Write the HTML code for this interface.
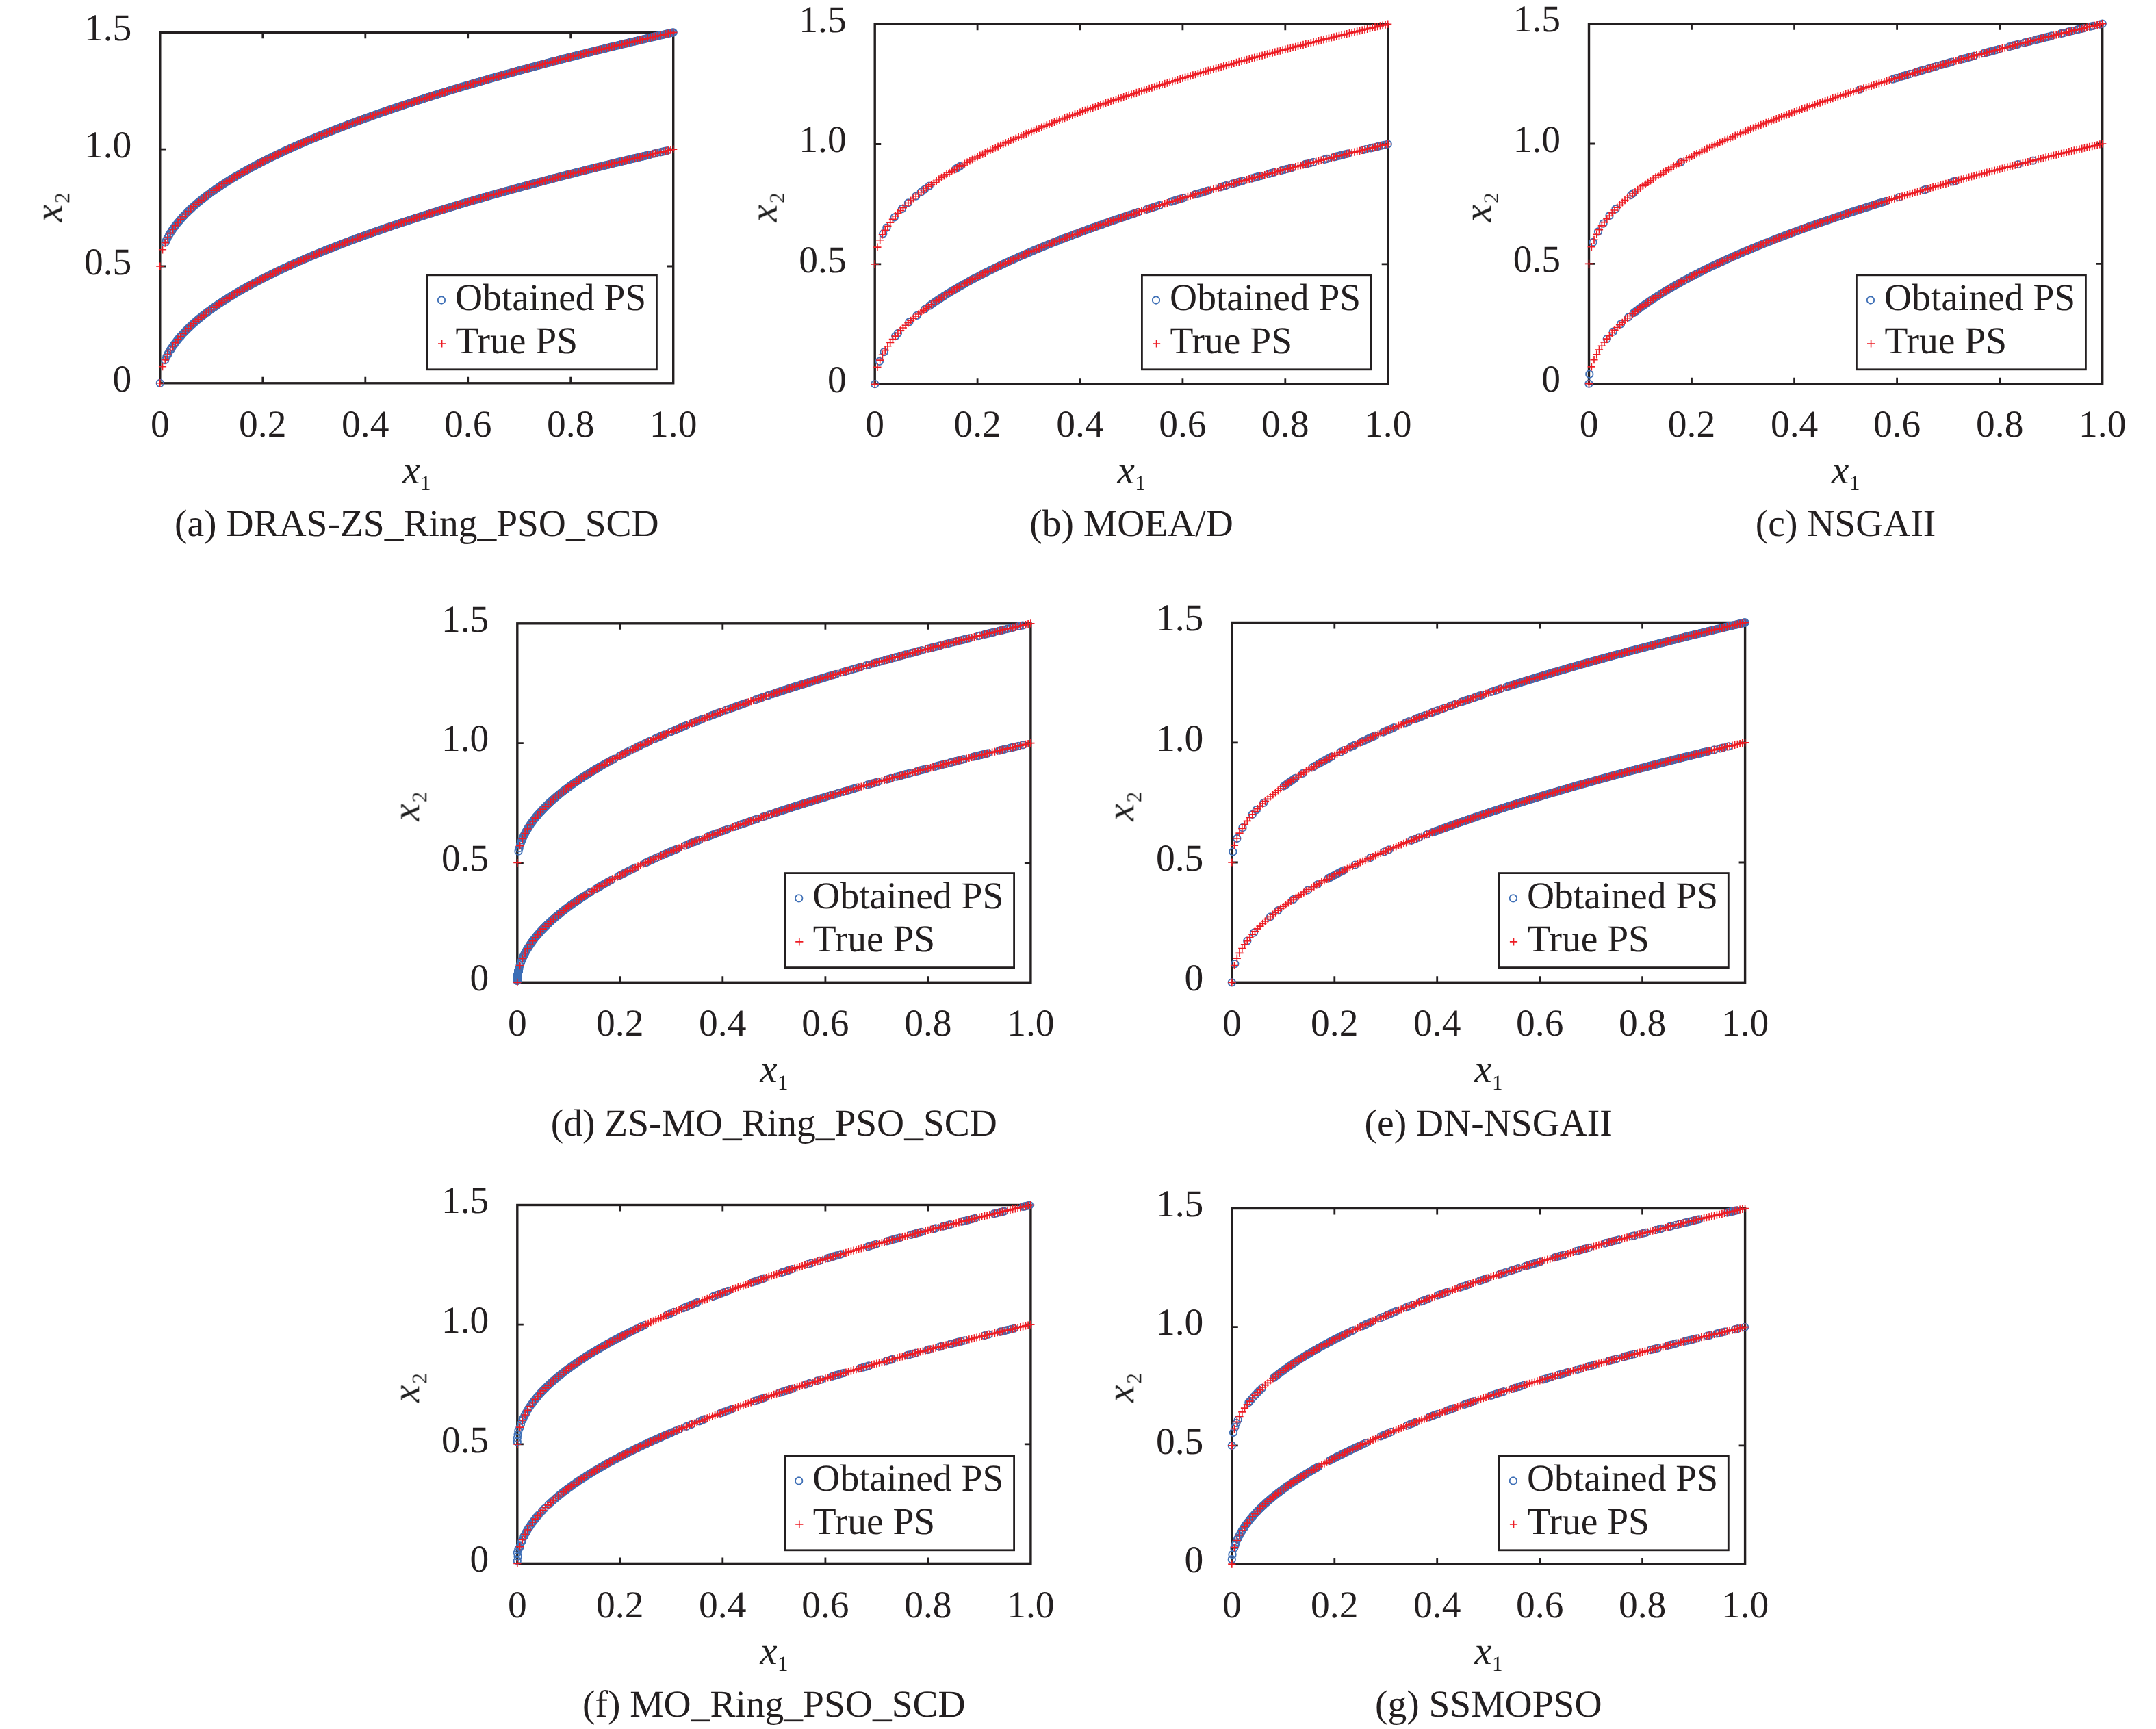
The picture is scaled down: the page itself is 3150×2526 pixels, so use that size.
<!DOCTYPE html>
<html><head><meta charset="utf-8"><title>Obtained PS vs True PS</title>
<style>
html,body{margin:0;padding:0;background:#fff}
svg{display:block}
text{text-rendering:geometricPrecision;font-family:"Liberation Serif","Times New Roman",serif;font-size:55.5px;fill:#231f20}
.i{font-style:italic;font-size:57px}
.s{font-size:31px}
.ax{fill:none;stroke:#231f20;stroke-width:3.4}
.tk{fill:none;stroke:#231f20;stroke-width:2.8}
.lg{fill:#fff;stroke:#231f20;stroke-width:2.8}
.b{fill:none;stroke:none;marker-start:url(#mc);marker-mid:url(#mc);marker-end:url(#mc)}
.r{fill:none;stroke:none;marker-start:url(#mp);marker-mid:url(#mp);marker-end:url(#mp)}
</style></head><body>
<svg width="3150" height="2526" viewBox="0 0 3150 2526">
<defs>
<marker id="mc" markerWidth="16" markerHeight="16" refX="8" refY="8" markerUnits="userSpaceOnUse" overflow="visible"><circle cx="8" cy="8" r="5.25" fill="none" stroke="#3e6fb6" stroke-width="1.8"/></marker>
<marker id="mp" markerWidth="16" markerHeight="16" refX="8" refY="8" markerUnits="userSpaceOnUse" overflow="visible"><path d="M2.4 8H13.6M8 2.4V13.6" fill="none" stroke="#ed1c24" stroke-width="1.65"/></marker>
<filter id="gs" x="-20%" y="-20%" width="140%" height="140%" color-interpolation-filters="sRGB"><feColorMatrix type="saturate" values="0"/></filter>
</defs>
<rect width="3150" height="2526" fill="#fff"/>

<g id="plot-a">
<rect class="ax" x="233.8" y="47.3" width="749.9" height="512.5"/>
<path class="tk" d="M383.8 559.8v-9M383.8 47.3v9M533.8 559.8v-9M533.8 47.3v9M683.7 559.8v-9M683.7 47.3v9M833.7 559.8v-9M833.7 47.3v9M233.8 389h9M983.7 389h-9M233.8 218.1h9M983.7 218.1h-9"/>
<polyline class="b" points="241.5,354.4 242.9,351.4 244.5,348.2 246.9,343.8 248.8,340.6 250.7,337.7 252,335.7 253.6,333.5 255.3,331.1 257.3,328.5 259.3,326 261.4,323.5 262.9,321.6 264.8,319.5 266.5,317.6 268.3,315.7 269.3,314.6 271.3,312.5 273.8,310.1 275.2,308.7 277.3,306.7 278.1,305.9 280.1,304.1 281.6,302.7 283.8,300.7 285.7,299.1 287.3,297.7 289.2,296.1 290.8,294.7 292.5,293.4 294.2,292 296.3,290.4 297.5,289.3 299.8,287.6 301.7,286.2 302.9,285.2 305.1,283.6 306.7,282.5 308.5,281.1 310.1,280 311.8,278.8 314,277.3 315.5,276.2 317.1,275.1 319.3,273.6 321.2,272.3 323.1,271 324.5,270.1 326,269.1 327.9,267.9 330.1,266.5 331.4,265.7 333.3,264.5 335.3,263.3 336.6,262.4 338.3,261.4 340.7,259.9 342.4,258.9 343.8,258.1 345.7,257 347.6,255.9 349.8,254.6 351.1,253.8 353.4,252.5 354.3,252 356.8,250.6 358.4,249.7 360.1,248.8 362.1,247.6 363.4,246.9 365.4,245.8 367.4,244.7 369.1,243.8 370.5,243.1 372.9,241.8 374,241.2 376,240.2 378.1,239.1 379.3,238.5 381.3,237.4 383,236.6 384.9,235.6 386.8,234.6 388.5,233.8 390.1,233 392.4,231.9 393.1,231.5 395,230.6 397.4,229.4 398.8,228.7 400.4,227.9 402.6,226.9 404.1,226.1 406.3,225.1 407.7,224.4 410,223.4 411.5,222.6 413.2,221.9 414.5,221.2 417.1,220.1 418.3,219.5 420.1,218.7 422,217.8 423.3,217.2 425.5,216.2 426.7,215.7 429,214.7 431.2,213.7 432.3,213.2 434.5,212.2 436.4,211.4 437.6,210.9 439.8,209.9 441.5,209.1 443.5,208.3 445.3,207.5 446.9,206.8 448.3,206.2 450.2,205.4 452.4,204.5 453.5,204 455.6,203.1 456.8,202.7 459.3,201.6 460.7,201 463.1,200.1 464.4,199.5 466.7,198.6 468.3,197.9 469.3,197.5 471.7,196.5 473.3,195.9 474.5,195.4 476.5,194.6 478.2,193.9 480.5,193 482.5,192.2 483.8,191.7 486,190.8 486.9,190.5 489.7,189.4 491.4,188.7 492.7,188.2 494.1,187.7 496,187 497.9,186.2 499.7,185.5 501.3,184.9 503.5,184.1 505.6,183.3 507.2,182.7 509.1,182 509.9,181.7 512.2,180.8 513.9,180.1 515.4,179.6 517.5,178.8 519.5,178.1 521.4,177.4 523,176.8 524.3,176.3 526.3,175.6 528.5,174.8 530.2,174.2 531.3,173.8 533.4,173 535.7,172.2 537.4,171.6 538.8,171.1 540.2,170.6 541.9,170 544.2,169.2 545.9,168.6 547.7,167.9 549.4,167.3 551.2,166.7 552.8,166.1 554.3,165.6 555.9,165 558.5,164.1 560.4,163.5 562.2,162.9 564,162.3 565.2,161.8 566.9,161.2 569,160.5 570.8,159.9 572.5,159.3 573.9,158.9 576,158.2 578,157.5 579.9,156.9 581,156.5 583.2,155.8 584.6,155.3 586,154.8 587.9,154.2 589.7,153.6 591.5,153 593.4,152.4 595.6,151.6 597.1,151.2 598.8,150.6 600.3,150.1 602.9,149.3 603.7,149 606.2,148.2 607.9,147.6 609.8,147 611.6,146.5 613.5,145.9 614.4,145.6 616.7,144.8 618.2,144.4 619.6,143.9 621.7,143.2 624.1,142.5 624.9,142.2 626.7,141.7 628.6,141.1 630.2,140.5 632.2,139.9 634.5,139.2 636.1,138.7 637.6,138.3 639.9,137.5 641.6,137 642.9,136.6 644.8,136 646.3,135.6 648.3,135 650.7,134.2 652.1,133.8 654,133.2 655.4,132.8 657.6,132.1 658.8,131.7 660.8,131.2 662.9,130.5 664.7,130 666,129.6 667.6,129.1 669.1,128.7 671.4,128 673.5,127.3 674.8,127 676.7,126.4 679,125.7 680,125.4 682.1,124.8 684.2,124.2 685.4,123.8 687.3,123.3 689.3,122.7 691.1,122.2 692.7,121.7 694.7,121.1 696.7,120.5 697.9,120.2 699.4,119.8 702,119 702.9,118.7 704.8,118.2 706.5,117.7 708.3,117.2 710.6,116.5 712.5,116 714.2,115.5 716,115 717.6,114.5 718.7,114.2 721.2,113.5 723.2,112.9 724.2,112.7 726.5,112 727.7,111.7 729.7,111.1 732,110.5 733.6,110 734.8,109.7 737,109.1 738.5,108.7 740.1,108.2 741.7,107.8 743.5,107.3 746.1,106.6 747.5,106.2 749.4,105.7 750.9,105.3 753.3,104.6 754.7,104.2 756.6,103.7 757.9,103.3 759.5,102.9 761.2,102.4 763.2,101.9 764.7,101.5 767.1,100.8 769.1,100.3 770.6,99.9 772.6,99.4 774.1,99 775.6,98.6 777.4,98.1 778.9,97.7 781.1,97.1 782.6,96.7 785.1,96 786.7,95.6 787.7,95.3 789.6,94.8 791.9,94.2 793.4,93.8 795.1,93.4 796.9,92.9 798.7,92.4 800.3,92 801.9,91.6 804.1,91 806,90.5 807.2,90.2 809,89.7 811.2,89.2 812.8,88.8 814.9,88.2 816.4,87.8 817.9,87.4 819.8,86.9 821.7,86.5 823.9,85.9 825.3,85.5 827.6,84.9 828.5,84.7 830.3,84.2 831.9,83.8 833.8,83.4 835.5,82.9 837.8,82.3 839.2,82 841.8,81.3 843,81 844.3,80.7 846.1,80.2 848.7,79.6 849.7,79.3 851.7,78.8 853.8,78.3 855.5,77.9 857.3,77.4 858.6,77.1 861.1,76.5 862.6,76.1 864.3,75.7 865.5,75.4 867.7,74.8 869.7,74.3 871.2,74 873.4,73.4 874.8,73.1 876.6,72.6 877.9,72.3 879.7,71.9 882.4,71.2 884.2,70.8 885,70.6 887,70.1 888.6,69.7 891.3,69 892.7,68.7 894.2,68.3 896.3,67.8 897.5,67.5 899.5,67.1 901.4,66.6 903.6,66.1 904.5,65.8 907,65.2 908.1,65 910.6,64.4 912.1,64 914,63.6 915.3,63.3 917.1,62.8 918.8,62.4 920.5,62 923.2,61.4 924.2,61.1 926.4,60.6 927.8,60.3 929.5,59.9 931.9,59.3 933.3,59 934.9,58.6 936.3,58.3 939,57.6 940.4,57.3 941.9,57 944.4,56.4 945.3,56.2 947.6,55.6 949.1,55.3 951.5,54.7 952.9,54.4 954.7,54 956.6,53.5 957.8,53.3 959.4,52.9 961.2,52.5 963.4,52 965,51.6 967.2,51.1 968.4,50.8 970.5,50.3 972.7,49.8 973.7,49.6 976.1,49 977.4,48.7 978.8,48.4 980.6,48 982.4,47.6 241.1,526.2 243.4,521.1 244.9,518.2 246.2,515.8 249,511.2 250,509.6 251.6,507.2 253.7,504.2 255.4,501.8 257.2,499.5 259,497.2 261,494.7 262.9,492.4 264.4,490.8 265.9,489.1 268.3,486.5 270.1,484.7 271.7,483 273.6,481.1 275,479.7 276.7,478.1 278.2,476.6 280.6,474.5 281.7,473.4 284.3,471.1 285.5,470 288,467.9 289.2,467 290.7,465.7 292.3,464.3 294.3,462.8 296.3,461.2 297.7,460 300.4,457.9 302.2,456.6 303.7,455.5 304.9,454.6 307.4,452.8 309.3,451.4 310.5,450.5 312.7,449 314,448.1 315.9,446.7 317.7,445.5 319.9,444 321.1,443.2 323.1,441.9 324.5,441 326.6,439.6 327.9,438.8 329.9,437.5 332.1,436.1 333.3,435.4 335.6,433.9 336.7,433.2 339,431.8 340.8,430.7 342.1,430 344.2,428.7 346.2,427.5 347.5,426.7 349.6,425.5 351.3,424.6 353.3,423.4 354.5,422.7 356.8,421.4 358.5,420.5 359.9,419.7 362.5,418.2 364,417.5 365.5,416.6 366.9,415.9 369.2,414.6 370.7,413.8 372.6,412.8 374.8,411.7 376,411 378.3,409.8 379.3,409.3 381.4,408.2 383.4,407.2 385.3,406.3 387,405.4 388.2,404.8 390.6,403.6 392.4,402.7 393.5,402.1 396.1,400.8 397.6,400.1 399.2,399.4 400.9,398.5 403.2,397.4 404.9,396.6 406.3,395.9 408.1,395.1 409.6,394.4 412.1,393.2 413.2,392.7 414.9,391.9 417,390.9 419.2,389.9 421,389.1 422.9,388.2 424.5,387.5 425.6,387 427.6,386.1 429,385.5 431.3,384.5 433.2,383.6 434.6,383 436.8,382 438.8,381.2 439.8,380.7 441.7,379.9 443.9,379 445.3,378.4 447.2,377.6 449.3,376.7 450.6,376.1 452.1,375.4 453.8,374.7 455.8,373.9 457.9,373 459.4,372.4 461.3,371.6 463.1,370.8 465,370.1 466.6,369.4 467.9,368.9 470.6,367.8 472.5,367 474.3,366.3 475.8,365.7 476.8,365.3 479.5,364.2 481.1,363.6 482.3,363.1 484.9,362.1 485.7,361.8 487.6,361.1 489.8,360.2 492,359.3 493,358.9 494.8,358.2 496.4,357.6 498.1,357 500.2,356.2 502.5,355.3 504.1,354.7 505.6,354.1 508,353.2 508.8,352.9 511.2,352 513.3,351.2 514.5,350.8 516.3,350.1 518.3,349.4 519.7,348.8 521.9,348 523.8,347.3 525.6,346.7 527.3,346.1 528.5,345.6 530.3,345 531.9,344.4 534.5,343.4 536.1,342.9 537.8,342.3 539.5,341.7 541.6,340.9 543,340.4 544.9,339.7 546.7,339.1 548.6,338.4 549.6,338.1 551.8,337.3 553.9,336.6 555.5,336 556.8,335.6 559.3,334.7 560.4,334.3 562.2,333.7 564.1,333 565.8,332.5 567.4,331.9 569.4,331.2 571,330.7 572.6,330.1 575.3,329.2 576.7,328.8 578.1,328.3 580.6,327.4 581.8,327.1 583.4,326.5 585.1,325.9 587.6,325.1 588.8,324.7 590.5,324.2 593.1,323.3 593.9,323.1 596.1,322.3 598.3,321.6 599.7,321.1 601.9,320.4 603.7,319.9 605.5,319.2 607.3,318.7 608.3,318.3 610.7,317.6 612.3,317.1 614.4,316.4 616,315.9 617.4,315.4 619.2,314.9 620.5,314.4 623.1,313.6 624.7,313.1 626.5,312.6 628.5,311.9 630.2,311.4 631.3,311.1 633,310.5 635.3,309.8 636.7,309.4 639.2,308.6 641,308 642.6,307.5 644.3,307 645.3,306.7 647.3,306.1 649.2,305.5 651.3,304.9 652.4,304.5 654.7,303.8 656.2,303.4 658.1,302.8 659.9,302.2 661.6,301.7 663,301.3 665,300.7 667.5,300 669.1,299.5 670.3,299.1 672.5,298.5 674.7,297.8 675.7,297.5 678.2,296.8 679.9,296.3 681.3,295.9 683.4,295.2 685.3,294.7 686.3,294.4 688.4,293.8 690.5,293.2 691.5,292.9 693.3,292.3 695.9,291.6 696.8,291.3 699,290.7 701.2,290.1 702.2,289.8 704.8,289 706.5,288.5 708,288.1 709.7,287.6 711.5,287.1 713.6,286.5 714.9,286.1 716.6,285.7 718.4,285.1 719.9,284.7 722.1,284.1 724,283.6 725.6,283.1 727.6,282.5 729.1,282.1 730.9,281.6 732.7,281.1 734.3,280.7 736.7,280 738,279.6 739.7,279.2 741.2,278.8 742.8,278.3 744.7,277.8 746.5,277.3 748.2,276.8 751,276.1 752.1,275.7 754.5,275.1 756.2,274.6 757.1,274.4 759.2,273.8 760.6,273.4 762.7,272.9 765.1,272.2 766.6,271.8 767.9,271.5 769.8,270.9 772.2,270.3 773.2,270 775.3,269.5 777,269 779.2,268.4 781,267.9 782.7,267.5 783.7,267.2 785.4,266.8 787.7,266.2 789.1,265.8 790.7,265.4 793,264.8 795.2,264.2 796.3,263.9 798.2,263.4 800.2,262.9 802.3,262.3 803.4,262 805.2,261.6 807.7,260.9 808.9,260.6 810.2,260.2 812,259.8 814.2,259.2 816.3,258.7 817.6,258.3 820,257.7 821.5,257.3 823.4,256.8 825.1,256.4 827,255.9 828.5,255.5 829.7,255.2 831.9,254.7 833.5,254.3 835.7,253.7 837.4,253.3 839.5,252.7 841.2,252.3 842.5,252 844.6,251.4 845.8,251.1 847.6,250.7 850,250.1 851.8,249.6 853.3,249.2 854.7,248.9 856.7,248.4 858.4,248 860.2,247.5 862.5,247 863.4,246.7 865.8,246.1 867.4,245.7 868.9,245.4 870.6,245 872.6,244.5 875,243.9 876.2,243.6 878,243.1 879.9,242.7 881.9,242.2 883.7,241.7 885.3,241.3 887.3,240.9 888.5,240.6 890.3,240.1 892.8,239.5 893.7,239.3 896.4,238.6 897.2,238.4 899.6,237.9 901.4,237.4 903,237 905.1,236.5 906.1,236.3 908.1,235.8 910,235.4 912.3,234.8 913.4,234.6 915.6,234 917.2,233.6 919.2,233.2 921,232.7 922.4,232.4 924.3,231.9 926.2,231.5 928,231.1 929.3,230.8 930.8,230.4 933.4,229.8 934.9,229.4 936.2,229.1 938.7,228.6 940.4,228.2 941.8,227.8 943.7,227.4 946,226.8 947.3,226.5 949.2,226.1 955.2,224.7 958.2,224 965,222.4 968,221.7 971,221 974.7,220.2 233.8,559.8 983.7,47.3"/>
<polyline class="r" points="233.8,389 237.5,364.8 241.3,354.8 245,347.1 248.8,340.6 252.5,334.9 256.3,329.8 260,325 263.8,320.6 267.5,316.5 271.3,312.6 275,308.8 278.8,305.3 282.5,301.9 286.3,298.6 290,295.4 293.8,292.3 297.5,289.4 301.3,286.5 305,283.7 308.8,280.9 312.5,278.3 316.3,275.6 320,273.1 323.8,270.6 327.5,268.2 331.3,265.8 335,263.4 338.8,261.1 342.5,258.9 346.3,256.6 350,254.5 353.8,252.3 357.5,250.2 361.3,248.1 365,246 368.8,244 372.5,242 376.3,240 380,238.1 383.8,236.2 387.5,234.3 391.3,232.4 395,230.5 398.8,228.7 402.5,226.9 406.3,225.1 410,223.3 413.8,221.6 417.5,219.9 421.3,218.1 425,216.4 428.8,214.8 432.5,213.1 436.3,211.4 440,209.8 443.8,208.2 447.5,206.6 451.3,205 455,203.4 458.8,201.8 462.5,200.3 466.3,198.7 470,197.2 473.8,195.7 477.5,194.2 481.3,192.7 485,191.2 488.8,189.7 492.5,188.3 496.3,186.8 500,185.4 503.8,184 507.5,182.5 511.3,181.1 515,179.7 518.8,178.3 522.5,177 526.3,175.6 530,174.2 533.8,172.9 537.5,171.5 541.3,170.2 545,168.9 548.8,167.5 552.5,166.2 556.3,164.9 560,163.6 563.8,162.3 567.5,161 571.3,159.8 575,158.5 578.8,157.2 582.5,156 586.3,154.7 590,153.5 593.8,152.3 597.5,151 601.3,149.8 605,148.6 608.8,147.4 612.5,146.2 616.2,145 620,143.8 623.7,142.6 627.5,141.4 631.2,140.2 635,139.1 638.7,137.9 642.5,136.7 646.2,135.6 650,134.4 653.7,133.3 657.5,132.1 661.2,131 665,129.9 668.7,128.8 672.5,127.6 676.2,126.5 680,125.4 683.7,124.3 687.5,123.2 691.2,122.1 695,121 698.7,119.9 702.5,118.9 706.2,117.8 710,116.7 713.7,115.6 717.5,114.6 721.2,113.5 725,112.4 728.7,111.4 732.5,110.3 736.2,109.3 740,108.3 743.7,107.2 747.5,106.2 751.2,105.2 755,104.1 758.7,103.1 762.5,102.1 766.2,101.1 770,100.1 773.7,99.1 777.5,98 781.2,97 785,96 788.7,95.1 792.5,94.1 796.2,93.1 800,92.1 803.7,91.1 807.5,90.1 811.2,89.2 815,88.2 818.7,87.2 822.5,86.2 826.2,85.3 830,84.3 833.7,83.4 837.5,82.4 841.2,81.5 845,80.5 848.7,79.6 852.5,78.6 856.2,77.7 860,76.8 863.7,75.8 867.5,74.9 871.2,74 875,73 878.7,72.1 882.5,71.2 886.2,70.3 890,69.4 893.7,68.5 897.5,67.5 901.2,66.6 905,65.7 908.7,64.8 912.5,63.9 916.2,63 920,62.1 923.7,61.3 927.5,60.4 931.2,59.5 935,58.6 938.7,57.7 942.5,56.8 946.2,56 950,55.1 953.7,54.2 957.5,53.3 961.2,52.5 965,51.6 968.7,50.7 972.5,49.9 976.2,49 980,48.2 983.7,47.3 233.8,559.8 237.5,535.6 241.3,525.6 245,518 248.8,511.5 252.5,505.8 256.3,500.6 260,495.9 263.8,491.5 267.5,487.3 271.3,483.4 275,479.7 278.8,476.1 282.5,472.7 286.3,469.4 290,466.2 293.8,463.2 297.5,460.2 301.3,457.3 305,454.5 308.8,451.8 312.5,449.1 316.3,446.5 320,443.9 323.8,441.4 327.5,439 331.3,436.6 335,434.3 338.8,432 342.5,429.7 346.3,427.5 350,425.3 353.8,423.1 357.5,421 361.3,418.9 365,416.9 368.8,414.8 372.5,412.8 376.3,410.9 380,408.9 383.8,407 387.5,405.1 391.3,403.2 395,401.4 398.8,399.5 402.5,397.7 406.3,395.9 410,394.2 413.8,392.4 417.5,390.7 421.3,389 425,387.3 428.8,385.6 432.5,383.9 436.3,382.3 440,380.6 443.8,379 447.5,377.4 451.3,375.8 455,374.2 458.8,372.7 462.5,371.1 466.3,369.6 470,368 473.8,366.5 477.5,365 481.3,363.5 485,362 488.8,360.6 492.5,359.1 496.3,357.7 500,356.2 503.8,354.8 507.5,353.4 511.3,352 515,350.6 518.8,349.2 522.5,347.8 526.3,346.4 530,345.1 533.8,343.7 537.5,342.4 541.3,341 545,339.7 548.8,338.4 552.5,337.1 556.3,335.8 560,334.5 563.8,333.2 567.5,331.9 571.3,330.6 575,329.3 578.8,328.1 582.5,326.8 586.3,325.6 590,324.3 593.8,323.1 597.5,321.9 601.3,320.6 605,319.4 608.8,318.2 612.5,317 616.2,315.8 620,314.6 623.7,313.4 627.5,312.2 631.2,311.1 635,309.9 638.7,308.7 642.5,307.6 646.2,306.4 650,305.3 653.7,304.1 657.5,303 661.2,301.8 665,300.7 668.7,299.6 672.5,298.5 676.2,297.4 680,296.3 683.7,295.1 687.5,294 691.2,292.9 695,291.9 698.7,290.8 702.5,289.7 706.2,288.6 710,287.5 713.7,286.5 717.5,285.4 721.2,284.3 725,283.3 728.7,282.2 732.5,281.2 736.2,280.1 740,279.1 743.7,278.1 747.5,277 751.2,276 755,275 758.7,273.9 762.5,272.9 766.2,271.9 770,270.9 773.7,269.9 777.5,268.9 781.2,267.9 785,266.9 788.7,265.9 792.5,264.9 796.2,263.9 800,262.9 803.7,261.9 807.5,261 811.2,260 815,259 818.7,258 822.5,257.1 826.2,256.1 830,255.2 833.7,254.2 837.5,253.3 841.2,252.3 845,251.4 848.7,250.4 852.5,249.5 856.2,248.5 860,247.6 863.7,246.7 867.5,245.7 871.2,244.8 875,243.9 878.7,243 882.5,242 886.2,241.1 890,240.2 893.7,239.3 897.5,238.4 901.2,237.5 905,236.6 908.7,235.7 912.5,234.8 916.2,233.9 920,233 923.7,232.1 927.5,231.2 931.2,230.3 935,229.4 938.7,228.5 942.5,227.7 946.2,226.8 950,225.9 953.7,225 957.5,224.2 961.2,223.3 965,222.4 968.7,221.6 972.5,220.7 976.2,219.8 980,219 983.7,218.1"/>
<rect class="lg" x="624.4" y="401.8" width="335" height="138"/>
<polyline class="b" points="645,438.5"/>
<polyline class="r" points="645.6,502"/>
<text x="665.1" y="453.1">Obtained PS</text>
<text x="665.6" y="516.2">True PS</text>
<text text-anchor="middle" x="233.8" y="637.8">0</text>
<text text-anchor="middle" x="383.8" y="637.8">0.2</text>
<text text-anchor="middle" x="533.8" y="637.8">0.4</text>
<text text-anchor="middle" x="683.7" y="637.8">0.6</text>
<text text-anchor="middle" x="833.7" y="637.8">0.8</text>
<text text-anchor="middle" x="983.7" y="637.8">1.0</text>
<text text-anchor="end" x="192.3" y="571.5">0</text>
<text text-anchor="end" x="192.3" y="400.7">0.5</text>
<text text-anchor="end" x="192.3" y="229.8">1.0</text>
<text text-anchor="end" x="192.3" y="59">1.5</text>
<text filter="url(#gs)" x="588.2" y="706"><tspan class="i">x</tspan><tspan class="s" dx="0.5" dy="10.4">1</tspan></text>
<text filter="url(#gs)" transform="translate(90.3 324.2) rotate(-90)"><tspan class="i">x</tspan><tspan class="s" dx="2" dy="11">2</tspan></text>
<text text-anchor="middle" x="608.8" y="783.4">(a) DRAS-ZS_Ring_PSO_SCD</text>
</g>
<g id="plot-b">
<rect class="ax" x="1278.2" y="35.2" width="749.5" height="526"/>
<path class="tk" d="M1428.1 561.2v-9M1428.1 35.2v9M1578 561.2v-9M1578 35.2v9M1727.9 561.2v-9M1727.9 35.2v9M1877.8 561.2v-9M1877.8 35.2v9M1278.2 385.9h9M2027.7 385.9h-9M1278.2 210.5h9M2027.7 210.5h-9"/>
<polyline class="b" points="1290.2,341.5 1295.4,332.7 1306.7,317.5 1317.9,305.1 1326.9,296.5 1338.2,286.7 1345.7,280.7 1350.9,276.7 1357.6,271.7 1396.6,246.5 1399.6,244.7 1402.6,243 1278.2,561.2 1284.9,527.9 1291.7,514.2 1308.2,491.1 1311.9,486.8 1328.4,470.4 1339.7,460.8 1350.9,452 1358.3,446.6 1361.1,444.6 1362.3,443.7 1365.5,441.5 1368.6,439.4 1371.2,437.7 1373.1,436.4 1375.2,435.1 1378.4,433 1379.7,432.1 1382.3,430.5 1385.2,428.7 1387.2,427.5 1390.1,425.7 1393.1,423.9 1395.8,422.3 1398.1,420.9 1399.9,419.9 1403.3,417.9 1405.5,416.7 1407.9,415.3 1409.3,414.6 1412.1,413 1415.1,411.3 1417.2,410.2 1419.9,408.7 1422.2,407.5 1424.3,406.4 1426.6,405.2 1430.2,403.3 1432.1,402.3 1435.2,400.7 1437.5,399.5 1440.2,398.2 1441.8,397.4 1444.3,396.1 1447.1,394.7 1449.1,393.8 1451.6,392.5 1454.5,391.1 1457.1,389.9 1459.5,388.8 1461.2,387.9 1464.6,386.3 1466.4,385.5 1469.3,384.1 1471.5,383.1 1474.1,381.9 1477.2,380.5 1478.6,379.9 1480.9,378.9 1483.5,377.7 1487,376.1 1488.5,375.4 1491.3,374.2 1494.5,372.8 1496.9,371.8 1499,370.9 1501.4,369.8 1503.7,368.8 1506.4,367.7 1509.3,366.5 1510.5,366 1514.2,364.4 1516,363.7 1518.9,362.5 1521.6,361.4 1523.8,360.5 1525.6,359.7 1528.1,358.7 1531,357.5 1533.7,356.5 1535,355.9 1538.5,354.5 1540.8,353.6 1543.5,352.6 1545,352 1547.4,351 1550.2,349.9 1553.6,348.6 1555.2,348 1558,346.9 1561.1,345.8 1562.2,345.4 1565.6,344.1 1568.4,343 1569.9,342.4 1572.2,341.6 1575.7,340.3 1577.5,339.6 1579.8,338.7 1583.4,337.4 1584.8,336.9 1587.7,335.8 1589.5,335.2 1591.8,334.4 1595.7,333 1597,332.5 1599.4,331.7 1601.8,330.8 1604.8,329.7 1607,328.9 1610.3,327.8 1611.7,327.3 1614.9,326.2 1617.3,325.3 1619.8,324.4 1622.7,323.5 1624.8,322.7 1627.2,321.9 1629.4,321.1 1631.3,320.5 1634.7,319.4 1637.5,318.4 1639.7,317.7 1642.3,316.8 1644.3,316.1 1646.5,315.4 1648.5,314.7 1651.7,313.7 1655.9,312.3 1658.2,311.5 1662.8,310 1675.6,305.9 1679.5,304.6 1682.7,303.6 1685.6,302.7 1689.4,301.5 1694.1,300 1711.4,294.6 1714,293.8 1716.8,292.9 1721.4,291.5 1725,290.5 1728.7,289.3 1745.8,284.2 1748.3,283.5 1752.2,282.3 1755.8,281.3 1759.4,280.2 1763.4,279 1765.7,278.4 1783.5,273.3 1787.4,272.2 1791.4,271 1800.5,268.5 1804.5,267.3 1808.8,266.2 1812.2,265.2 1815.4,264.3 1828.7,260.7 1833.2,259.4 1835.8,258.7 1838.4,258 1842.3,257 1854.2,253.8 1857.6,252.9 1861.2,251.9 1872.7,248.9 1876.4,247.9 1880.2,246.9 1885.1,245.6 1887.8,244.9 1906.8,240 1909.8,239.3 1914.1,238.2 1918.7,237 1935.4,232.8 1938.9,232 1949.5,229.3 1952.9,228.5 1956.6,227.6 1958.9,227 1963.1,226 1966.4,225.2 1969.6,224.4 1991.6,219.1 1995.3,218.2 2002.9,216.4 2006.2,215.6 2011.9,214.3 2014.1,213.7 2018.6,212.7 2022.3,211.8 2027.7,210.5"/>
<polyline class="r" points="1278.2,385.9 1281.9,361.1 1285.7,350.8 1289.4,342.9 1293.2,336.3 1296.9,330.4 1300.7,325.1 1304.4,320.3 1308.2,315.7 1311.9,311.5 1315.7,307.5 1319.4,303.6 1323.2,300 1326.9,296.5 1330.7,293.1 1334.4,289.8 1338.2,286.7 1341.9,283.6 1345.7,280.7 1349.4,277.8 1353.2,275 1356.9,272.2 1360.6,269.6 1364.4,266.9 1368.1,264.4 1371.9,261.9 1375.6,259.4 1379.4,257 1383.1,254.7 1386.9,252.3 1390.6,250.1 1394.4,247.8 1398.1,245.6 1401.9,243.4 1405.6,241.3 1409.4,239.2 1413.1,237.1 1416.9,235 1420.6,233 1424.4,231 1428.1,229 1431.8,227.1 1435.6,225.2 1439.3,223.3 1443.1,221.4 1446.8,219.5 1450.6,217.7 1454.3,215.9 1458.1,214.1 1461.8,212.3 1465.6,210.5 1469.3,208.8 1473.1,207.1 1476.8,205.3 1480.6,203.7 1484.3,202 1488.1,200.3 1491.8,198.7 1495.6,197 1499.3,195.4 1503,193.8 1506.8,192.2 1510.5,190.6 1514.3,189.1 1518,187.5 1521.8,186 1525.5,184.4 1529.3,182.9 1533,181.4 1536.8,179.9 1540.5,178.4 1544.3,176.9 1548,175.5 1551.8,174 1555.5,172.6 1559.3,171.1 1563,169.7 1566.8,168.3 1570.5,166.9 1574.3,165.5 1578,164.1 1581.7,162.7 1585.5,161.3 1589.2,160 1593,158.6 1596.7,157.3 1600.5,155.9 1604.2,154.6 1608,153.3 1611.7,151.9 1615.5,150.6 1619.2,149.3 1623,148 1626.7,146.7 1630.5,145.5 1634.2,144.2 1638,142.9 1641.7,141.7 1645.5,140.4 1649.2,139.2 1653,137.9 1656.7,136.7 1660.4,135.4 1664.2,134.2 1667.9,133 1671.7,131.8 1675.4,130.6 1679.2,129.4 1682.9,128.2 1686.7,127 1690.4,125.8 1694.2,124.6 1697.9,123.5 1701.7,122.3 1705.4,121.1 1709.2,120 1712.9,118.8 1716.7,117.7 1720.4,116.5 1724.2,115.4 1727.9,114.2 1731.6,113.1 1735.4,112 1739.1,110.9 1742.9,109.8 1746.6,108.6 1750.4,107.5 1754.1,106.4 1757.9,105.3 1761.6,104.2 1765.4,103.2 1769.1,102.1 1772.9,101 1776.6,99.9 1780.4,98.8 1784.1,97.8 1787.9,96.7 1791.6,95.6 1795.4,94.6 1799.1,93.5 1802.8,92.5 1806.6,91.4 1810.3,90.4 1814.1,89.4 1817.8,88.3 1821.6,87.3 1825.3,86.3 1829.1,85.2 1832.8,84.2 1836.6,83.2 1840.3,82.2 1844.1,81.2 1847.8,80.2 1851.6,79.2 1855.3,78.2 1859.1,77.2 1862.8,76.2 1866.6,75.2 1870.3,74.2 1874.1,73.2 1877.8,72.2 1881.5,71.2 1885.3,70.3 1889,69.3 1892.8,68.3 1896.5,67.4 1900.3,66.4 1904,65.4 1907.8,64.5 1911.5,63.5 1915.3,62.6 1919,61.6 1922.8,60.7 1926.5,59.7 1930.3,58.8 1934,57.8 1937.8,56.9 1941.5,56 1945.3,55 1949,54.1 1952.8,53.2 1956.5,52.3 1960.2,51.4 1964,50.4 1967.7,49.5 1971.5,48.6 1975.2,47.7 1979,46.8 1982.7,45.9 1986.5,45 1990.2,44.1 1994,43.2 1997.7,42.3 2001.5,41.4 2005.2,40.5 2009,39.6 2012.7,38.7 2016.5,37.8 2020.2,37 2024,36.1 2027.7,35.2 1278.2,561.2 1281.9,536.4 1285.7,526.1 1289.4,518.3 1293.2,511.6 1296.9,505.8 1300.7,500.5 1304.4,495.6 1308.2,491.1 1311.9,486.8 1315.7,482.8 1319.4,479 1323.2,475.3 1326.9,471.8 1330.7,468.4 1334.4,465.2 1338.2,462 1341.9,459 1345.7,456 1349.4,453.1 1353.2,450.3 1356.9,447.6 1360.6,444.9 1364.4,442.3 1368.1,439.7 1371.9,437.2 1375.6,434.8 1379.4,432.4 1383.1,430 1386.9,427.7 1390.6,425.4 1394.4,423.1 1398.1,420.9 1401.9,418.8 1405.6,416.6 1409.4,414.5 1413.1,412.4 1416.9,410.4 1420.6,408.3 1424.4,406.3 1428.1,404.4 1431.8,402.4 1435.6,400.5 1439.3,398.6 1443.1,396.7 1446.8,394.9 1450.6,393 1454.3,391.2 1458.1,389.4 1461.8,387.6 1465.6,385.9 1469.3,384.1 1473.1,382.4 1476.8,380.7 1480.6,379 1484.3,377.3 1488.1,375.6 1491.8,374 1495.6,372.4 1499.3,370.7 1503,369.1 1506.8,367.5 1510.5,366 1514.3,364.4 1518,362.8 1521.8,361.3 1525.5,359.8 1529.3,358.2 1533,356.7 1536.8,355.2 1540.5,353.7 1544.3,352.3 1548,350.8 1551.8,349.3 1555.5,347.9 1559.3,346.5 1563,345 1566.8,343.6 1570.5,342.2 1574.3,340.8 1578,339.4 1581.7,338 1585.5,336.7 1589.2,335.3 1593,333.9 1596.7,332.6 1600.5,331.3 1604.2,329.9 1608,328.6 1611.7,327.3 1615.5,326 1619.2,324.7 1623,323.4 1626.7,322.1 1630.5,320.8 1634.2,319.5 1638,318.3 1641.7,317 1645.5,315.7 1649.2,314.5 1653,313.2 1656.7,312 1660.4,310.8 1664.2,309.5 1667.9,308.3 1671.7,307.1 1675.4,305.9 1679.2,304.7 1682.9,303.5 1686.7,302.3 1690.4,301.1 1694.2,300 1697.9,298.8 1701.7,297.6 1705.4,296.5 1709.2,295.3 1712.9,294.1 1716.7,293 1720.4,291.8 1724.2,290.7 1727.9,289.6 1731.6,288.4 1735.4,287.3 1739.1,286.2 1742.9,285.1 1746.6,284 1750.4,282.9 1754.1,281.8 1757.9,280.7 1761.6,279.6 1765.4,278.5 1769.1,277.4 1772.9,276.3 1776.6,275.2 1780.4,274.2 1784.1,273.1 1787.9,272 1791.6,271 1795.4,269.9 1799.1,268.9 1802.8,267.8 1806.6,266.8 1810.3,265.7 1814.1,264.7 1817.8,263.6 1821.6,262.6 1825.3,261.6 1829.1,260.6 1832.8,259.5 1836.6,258.5 1840.3,257.5 1844.1,256.5 1847.8,255.5 1851.6,254.5 1855.3,253.5 1859.1,252.5 1862.8,251.5 1866.6,250.5 1870.3,249.5 1874.1,248.5 1877.8,247.6 1881.5,246.6 1885.3,245.6 1889,244.6 1892.8,243.7 1896.5,242.7 1900.3,241.7 1904,240.8 1907.8,239.8 1911.5,238.9 1915.3,237.9 1919,237 1922.8,236 1926.5,235.1 1930.3,234.1 1934,233.2 1937.8,232.2 1941.5,231.3 1945.3,230.4 1949,229.5 1952.8,228.5 1956.5,227.6 1960.2,226.7 1964,225.8 1967.7,224.9 1971.5,223.9 1975.2,223 1979,222.1 1982.7,221.2 1986.5,220.3 1990.2,219.4 1994,218.5 1997.7,217.6 2001.5,216.7 2005.2,215.8 2009,214.9 2012.7,214.1 2016.5,213.2 2020.2,212.3 2024,211.4 2027.7,210.5"/>
<rect class="lg" x="1668.4" y="401.8" width="335" height="138"/>
<polyline class="b" points="1689,438.5"/>
<polyline class="r" points="1689.6,502"/>
<text x="1709.1" y="453.1">Obtained PS</text>
<text x="1709.6" y="516.2">True PS</text>
<text text-anchor="middle" x="1278.2" y="637.8">0</text>
<text text-anchor="middle" x="1428.1" y="637.8">0.2</text>
<text text-anchor="middle" x="1578" y="637.8">0.4</text>
<text text-anchor="middle" x="1727.9" y="637.8">0.6</text>
<text text-anchor="middle" x="1877.8" y="637.8">0.8</text>
<text text-anchor="middle" x="2027.7" y="637.8">1.0</text>
<text text-anchor="end" x="1236.7" y="572.9">0</text>
<text text-anchor="end" x="1236.7" y="397.6">0.5</text>
<text text-anchor="end" x="1236.7" y="222.2">1.0</text>
<text text-anchor="end" x="1236.7" y="46.9">1.5</text>
<text filter="url(#gs)" x="1632.5" y="706"><tspan class="i">x</tspan><tspan class="s" dx="0.5" dy="10.4">1</tspan></text>
<text filter="url(#gs)" transform="translate(1134.7 324.2) rotate(-90)"><tspan class="i">x</tspan><tspan class="s" dx="2" dy="11">2</tspan></text>
<text text-anchor="middle" x="1653" y="783.4">(b) MOEA/D</text>
</g>
<g id="plot-c">
<rect class="ax" x="2321.5" y="34.7" width="750.2" height="526"/>
<path class="tk" d="M2471.5 560.7v-9M2471.5 34.7v9M2621.6 560.7v-9M2621.6 34.7v9M2771.6 560.7v-9M2771.6 34.7v9M2921.7 560.7v-9M2921.7 34.7v9M2321.5 385.4h9M3071.7 385.4h-9M2321.5 210h9M3071.7 210h-9"/>
<polyline class="b" points="2327.5,354 2335,338.3 2342.5,326.7 2351.5,315.2 2360.5,305.4 2383,285 2386,282.5 2455.8,237 2717.6,130.6 2765.6,115.6 2769,114.5 2771.5,113.8 2777.6,111.9 2780.6,111 2783,110.3 2786.2,109.4 2790.7,108 2799.4,105.5 2801.6,104.8 2805,103.9 2807.2,103.2 2810,102.4 2817.1,100.4 2820.5,99.4 2824.5,98.2 2829,96.9 2836.5,94.8 2839.5,94 2842.3,93.2 2845.4,92.3 2848.4,91.5 2851.5,90.6 2864.6,87 2868,86.1 2870.5,85.4 2874.6,84.3 2877.6,83.4 2879.9,82.8 2884.4,81.6 2898.3,77.9 2902.5,76.8 2905.6,75.9 2907.6,75.4 2910,74.8 2913.2,73.9 2916.3,73.1 2920.6,72 2935.8,68.1 2940.1,66.9 2941.6,66.5 2945.2,65.6 2948,64.9 2957.5,62.5 2960.6,61.7 2964.3,60.8 2966.6,60.2 2974.4,58.2 2977,57.6 2980.1,56.8 2984.4,55.7 2987.2,55 2991,54.1 2993.2,53.6 2997.3,52.5 3011.7,49 3014.6,48.3 3021.2,46.7 3023.6,46.1 3027.7,45.1 3034.3,43.6 3036.9,42.9 3040.2,42.1 3043.8,41.3 3054.7,38.7 3058.2,37.9 3067.9,35.6 3071.7,34.7 2347.8,495.1 2356.8,484.7 2368,473.4 2379.3,463.4 2386.9,457.2 2389.2,455.4 2391.2,453.8 2394.2,451.5 2396.3,449.9 2399.4,447.7 2401.1,446.5 2403.4,444.9 2406.5,442.7 2409.1,440.8 2410.9,439.6 2413.1,438.1 2416.5,435.9 2418.9,434.3 2421.6,432.6 2423.1,431.7 2426.2,429.7 2428.9,428 2431.4,426.5 2434.2,424.8 2435.7,423.9 2439.1,421.9 2440.6,421 2443.2,419.5 2445.8,418 2449.1,416.1 2451,415 2452.7,414.1 2455.9,412.3 2458.8,410.7 2460.5,409.7 2463.1,408.4 2466,406.8 2468.2,405.6 2471.2,404 2473.1,403.1 2475.3,401.9 2478.4,400.3 2479.9,399.6 2483.5,397.7 2485.8,396.6 2488.2,395.4 2490.8,394.1 2492.6,393.2 2496.2,391.5 2498.1,390.5 2501,389.2 2502.9,388.3 2505.2,387.2 2507.8,386 2509.7,385.1 2513,383.5 2515.8,382.3 2517.9,381.3 2519.8,380.4 2522.8,379 2524.9,378.1 2527.7,376.9 2530.3,375.7 2533.2,374.4 2534.6,373.8 2537.4,372.6 2540,371.5 2541.9,370.6 2544.8,369.4 2546.9,368.5 2550.2,367.1 2552.2,366.3 2554.4,365.3 2557.6,364 2560,363 2562.9,361.8 2565,360.9 2567.9,359.7 2569.8,359 2572,358.1 2574.3,357.2 2576.6,356.2 2579.1,355.2 2581.4,354.3 2585.1,352.8 2586.5,352.3 2590,350.9 2591.3,350.4 2595.1,348.9 2596.6,348.4 2598.9,347.5 2602.2,346.2 2603.6,345.7 2607.4,344.2 2609.3,343.5 2611.3,342.8 2614,341.7 2616.1,341 2619.7,339.6 2621.3,339 2624.4,337.9 2626.9,337 2629.4,336.1 2632,335.1 2634,334.4 2637.2,333.2 2638.3,332.8 2641.6,331.6 2643.3,331 2646.9,329.7 2648.8,329.1 2652,328 2654.3,327.1 2656,326.5 2659.5,325.3 2661.3,324.7 2663.9,323.8 2666.7,322.8 2669.3,321.9 2670.8,321.4 2673.3,320.6 2675.4,319.8 2678,319 2680.9,318 2684.1,316.9 2685.7,316.4 2688.1,315.6 2691.4,314.5 2693.1,313.9 2695.7,313.1 2698,312.3 2700.4,311.5 2704,310.3 2705.7,309.7 2707.8,309.1 2711,308 2713,307.4 2715.9,306.4 2717.7,305.9 2720.2,305.1 2723.3,304.1 2726.4,303.1 2728.3,302.5 2731.1,301.6 2732.4,301.2 2735.9,300.1 2738.7,299.2 2741.2,298.4 2743.7,297.6 2745.6,297 2747.4,296.5 2750.3,295.6 2752.7,294.8 2755.8,293.9 2774.6,288.2 2811.4,277.3 2814.4,276.5 2853.4,265.4 2856.4,264.6 2948.7,240.1 2970.4,234.6 2321.5,560.7 2322.3,546.7"/>
<polyline class="r" points="2321.5,385.4 2325.3,360.6 2329,350.3 2332.8,342.4 2336.5,335.8 2340.3,329.9 2344,324.6 2347.8,319.8 2351.5,315.2 2355.3,311 2359,307 2362.8,303.1 2366.5,299.5 2370.3,296 2374,292.6 2377.8,289.3 2381.5,286.2 2385.3,283.1 2389,280.2 2392.8,277.3 2396.5,274.5 2400.3,271.7 2404,269.1 2407.8,266.4 2411.5,263.9 2415.3,261.4 2419,258.9 2422.8,256.5 2426.5,254.2 2430.3,251.8 2434,249.6 2437.8,247.3 2441.5,245.1 2445.3,242.9 2449,240.8 2452.8,238.7 2456.5,236.6 2460.3,234.5 2464,232.5 2467.8,230.5 2471.5,228.5 2475.3,226.6 2479,224.7 2482.8,222.8 2486.5,220.9 2490.3,219 2494,217.2 2497.8,215.4 2501.5,213.6 2505.3,211.8 2509.1,210 2512.8,208.3 2516.6,206.6 2520.3,204.8 2524.1,203.2 2527.8,201.5 2531.6,199.8 2535.3,198.2 2539.1,196.5 2542.8,194.9 2546.6,193.3 2550.3,191.7 2554.1,190.1 2557.8,188.6 2561.6,187 2565.3,185.5 2569.1,183.9 2572.8,182.4 2576.6,180.9 2580.3,179.4 2584.1,177.9 2587.8,176.4 2591.6,175 2595.3,173.5 2599.1,172.1 2602.8,170.6 2606.6,169.2 2610.3,167.8 2614.1,166.4 2617.8,165 2621.6,163.6 2625.3,162.2 2629.1,160.8 2632.8,159.5 2636.6,158.1 2640.3,156.8 2644.1,155.4 2647.8,154.1 2651.6,152.8 2655.3,151.4 2659.1,150.1 2662.8,148.8 2666.6,147.5 2670.3,146.2 2674.1,145 2677.8,143.7 2681.6,142.4 2685.3,141.2 2689.1,139.9 2692.8,138.7 2696.6,137.4 2700.4,136.2 2704.1,134.9 2707.9,133.7 2711.6,132.5 2715.4,131.3 2719.1,130.1 2722.9,128.9 2726.6,127.7 2730.4,126.5 2734.1,125.3 2737.9,124.1 2741.6,123 2745.4,121.8 2749.1,120.6 2752.9,119.5 2756.6,118.3 2760.4,117.2 2764.1,116 2767.9,114.9 2771.6,113.7 2775.4,112.6 2779.1,111.5 2782.9,110.4 2786.6,109.3 2790.4,108.1 2794.1,107 2797.9,105.9 2801.6,104.8 2805.4,103.7 2809.1,102.7 2812.9,101.6 2816.6,100.5 2820.4,99.4 2824.1,98.3 2827.9,97.3 2831.6,96.2 2835.4,95.1 2839.1,94.1 2842.9,93 2846.6,92 2850.4,90.9 2854.1,89.9 2857.9,88.9 2861.6,87.8 2865.4,86.8 2869.1,85.8 2872.9,84.7 2876.6,83.7 2880.4,82.7 2884.1,81.7 2887.9,80.7 2891.7,79.7 2895.4,78.7 2899.2,77.7 2902.9,76.7 2906.7,75.7 2910.4,74.7 2914.2,73.7 2917.9,72.7 2921.7,71.7 2925.4,70.7 2929.2,69.8 2932.9,68.8 2936.7,67.8 2940.4,66.9 2944.2,65.9 2947.9,64.9 2951.7,64 2955.4,63 2959.2,62.1 2962.9,61.1 2966.7,60.2 2970.4,59.2 2974.2,58.3 2977.9,57.3 2981.7,56.4 2985.4,55.5 2989.2,54.5 2992.9,53.6 2996.7,52.7 3000.4,51.8 3004.2,50.9 3007.9,49.9 3011.7,49 3015.4,48.1 3019.2,47.2 3022.9,46.3 3026.7,45.4 3030.4,44.5 3034.2,43.6 3037.9,42.7 3041.7,41.8 3045.4,40.9 3049.2,40 3052.9,39.1 3056.7,38.2 3060.4,37.3 3064.2,36.5 3067.9,35.6 3071.7,34.7 2321.5,560.7 2325.3,535.9 2329,525.6 2332.8,517.8 2336.5,511.1 2340.3,505.3 2344,500 2347.8,495.1 2351.5,490.6 2355.3,486.3 2359,482.3 2362.8,478.5 2366.5,474.8 2370.3,471.3 2374,467.9 2377.8,464.7 2381.5,461.5 2385.3,458.5 2389,455.5 2392.8,452.6 2396.5,449.8 2400.3,447.1 2404,444.4 2407.8,441.8 2411.5,439.2 2415.3,436.7 2419,434.3 2422.8,431.9 2426.5,429.5 2430.3,427.2 2434,424.9 2437.8,422.6 2441.5,420.4 2445.3,418.3 2449,416.1 2452.8,414 2456.5,411.9 2460.3,409.9 2464,407.8 2467.8,405.8 2471.5,403.9 2475.3,401.9 2479,400 2482.8,398.1 2486.5,396.2 2490.3,394.4 2494,392.5 2497.8,390.7 2501.5,388.9 2505.3,387.1 2509.1,385.4 2512.8,383.6 2516.6,381.9 2520.3,380.2 2524.1,378.5 2527.8,376.8 2531.6,375.1 2535.3,373.5 2539.1,371.9 2542.8,370.2 2546.6,368.6 2550.3,367 2554.1,365.5 2557.8,363.9 2561.6,362.3 2565.3,360.8 2569.1,359.3 2572.8,357.7 2576.6,356.2 2580.3,354.7 2584.1,353.2 2587.8,351.8 2591.6,350.3 2595.3,348.8 2599.1,347.4 2602.8,346 2606.6,344.5 2610.3,343.1 2614.1,341.7 2617.8,340.3 2621.6,338.9 2625.3,337.5 2629.1,336.2 2632.8,334.8 2636.6,333.4 2640.3,332.1 2644.1,330.8 2647.8,329.4 2651.6,328.1 2655.3,326.8 2659.1,325.5 2662.8,324.2 2666.6,322.9 2670.3,321.6 2674.1,320.3 2677.8,319 2681.6,317.8 2685.3,316.5 2689.1,315.2 2692.8,314 2696.6,312.7 2700.4,311.5 2704.1,310.3 2707.9,309 2711.6,307.8 2715.4,306.6 2719.1,305.4 2722.9,304.2 2726.6,303 2730.4,301.8 2734.1,300.6 2737.9,299.5 2741.6,298.3 2745.4,297.1 2749.1,296 2752.9,294.8 2756.6,293.6 2760.4,292.5 2764.1,291.3 2767.9,290.2 2771.6,289.1 2775.4,287.9 2779.1,286.8 2782.9,285.7 2786.6,284.6 2790.4,283.5 2794.1,282.4 2797.9,281.3 2801.6,280.2 2805.4,279.1 2809.1,278 2812.9,276.9 2816.6,275.8 2820.4,274.7 2824.1,273.7 2827.9,272.6 2831.6,271.5 2835.4,270.5 2839.1,269.4 2842.9,268.4 2846.6,267.3 2850.4,266.3 2854.1,265.2 2857.9,264.2 2861.6,263.1 2865.4,262.1 2869.1,261.1 2872.9,260.1 2876.6,259 2880.4,258 2884.1,257 2887.9,256 2891.7,255 2895.4,254 2899.2,253 2902.9,252 2906.7,251 2910.4,250 2914.2,249 2917.9,248 2921.7,247.1 2925.4,246.1 2929.2,245.1 2932.9,244.1 2936.7,243.2 2940.4,242.2 2944.2,241.2 2947.9,240.3 2951.7,239.3 2955.4,238.4 2959.2,237.4 2962.9,236.5 2966.7,235.5 2970.4,234.6 2974.2,233.6 2977.9,232.7 2981.7,231.7 2985.4,230.8 2989.2,229.9 2992.9,229 2996.7,228 3000.4,227.1 3004.2,226.2 3007.9,225.3 3011.7,224.4 3015.4,223.4 3019.2,222.5 3022.9,221.6 3026.7,220.7 3030.4,219.8 3034.2,218.9 3037.9,218 3041.7,217.1 3045.4,216.2 3049.2,215.3 3052.9,214.4 3056.7,213.6 3060.4,212.7 3064.2,211.8 3067.9,210.9 3071.7,210"/>
<rect class="lg" x="2712.4" y="401.8" width="335" height="138"/>
<polyline class="b" points="2733,438.5"/>
<polyline class="r" points="2733.6,502"/>
<text x="2753.1" y="453.1">Obtained PS</text>
<text x="2753.6" y="516.2">True PS</text>
<text text-anchor="middle" x="2321.5" y="637.8">0</text>
<text text-anchor="middle" x="2471.5" y="637.8">0.2</text>
<text text-anchor="middle" x="2621.6" y="637.8">0.4</text>
<text text-anchor="middle" x="2771.6" y="637.8">0.6</text>
<text text-anchor="middle" x="2921.7" y="637.8">0.8</text>
<text text-anchor="middle" x="3071.7" y="637.8">1.0</text>
<text text-anchor="end" x="2280" y="572.4">0</text>
<text text-anchor="end" x="2280" y="397.1">0.5</text>
<text text-anchor="end" x="2280" y="221.7">1.0</text>
<text text-anchor="end" x="2280" y="46.4">1.5</text>
<text filter="url(#gs)" x="2676.1" y="706"><tspan class="i">x</tspan><tspan class="s" dx="0.5" dy="10.4">1</tspan></text>
<text filter="url(#gs)" transform="translate(2178 324.2) rotate(-90)"><tspan class="i">x</tspan><tspan class="s" dx="2" dy="11">2</tspan></text>
<text text-anchor="middle" x="2696.6" y="783.4">(c) NSGAII</text>
</g>
<g id="plot-d">
<rect class="ax" x="755.8" y="910.8" width="750.1" height="524.5"/>
<path class="tk" d="M905.8 1435.3v-9M905.8 910.8v9M1055.8 1435.3v-9M1055.8 910.8v9M1205.9 1435.3v-9M1205.9 910.8v9M1355.9 1435.3v-9M1355.9 910.8v9M755.8 1260.5h9M1505.9 1260.5h-9M755.8 1085.6h9M1505.9 1085.6h-9"/>
<polyline class="b" points="757.5,1243.7 758.6,1239.2 760,1234.2 760.6,1232.5 761.5,1230 762.5,1227.4 763.7,1224.5 764.6,1222.5 765.8,1220 766.6,1218.5 767.5,1216.9 768.8,1214.4 769.4,1213.3 770.7,1211.2 771.8,1209.4 772.5,1208.4 773.4,1206.9 774.5,1205.2 775.3,1204 776.6,1202.2 777.6,1200.9 778.7,1199.3 779.3,1198.6 780.5,1197 781.3,1196 782.7,1194.2 783.5,1193.2 784.4,1192.2 785.5,1190.8 786.4,1189.8 787.3,1188.8 788.3,1187.6 789.2,1186.6 790.7,1185.1 791.4,1184.3 792.1,1183.6 793.5,1182.1 794.1,1181.4 795.5,1180.1 796.4,1179.1 797.2,1178.3 798.4,1177.1 799.1,1176.5 800.2,1175.4 801.2,1174.4 802.2,1173.5 803.3,1172.4 804.2,1171.7 805,1170.9 806.2,1169.8 807.2,1169 808.1,1168.1 809.1,1167.3 810,1166.5 811.3,1165.3 812.4,1164.4 813.1,1163.8 814.1,1162.9 815.2,1162 815.9,1161.5 817,1160.6 817.8,1160 819.1,1158.9 819.9,1158.2 821.2,1157.2 821.9,1156.6 823.2,1155.7 824.1,1155 825,1154.2 826.2,1153.4 827.2,1152.6 827.9,1152 828.6,1151.5 829.7,1150.7 831.1,1149.7 831.9,1149.1 833,1148.3 833.5,1147.9 834.6,1147.1 836.1,1146.1 837.1,1145.4 837.7,1144.9 838.7,1144.2 839.6,1143.6 840.7,1142.9 842,1141.9 842.7,1141.4 843.8,1140.7 844.7,1140.1 845.8,1139.3 846.5,1138.9 847.7,1138.1 848.9,1137.3 849.7,1136.8 850.8,1136 851.4,1135.6 852.4,1135 853.4,1134.3 854.8,1133.4 855.8,1132.8 856.4,1132.4 857.3,1131.8 858.7,1131 859.7,1130.3 860.5,1129.8 861.8,1129.1 862.2,1128.7 863.2,1128.2 864.2,1127.5 865.7,1126.6 866.5,1126.1 867.6,1125.5 868.7,1124.8 869.3,1124.4 870.5,1123.7 871.5,1123.1 872.4,1122.6 873.2,1122.1 874.6,1121.3 875.5,1120.8 876.4,1120.2 879.6,1118.4 882.9,1116.5 885.8,1114.9 888.9,1113.2 891.1,1112 894.6,1110.1 896.8,1108.9 905.2,1104.4 909.4,1102.3 911.1,1101.4 914.3,1099.7 916.7,1098.5 920.9,1096.4 926.3,1093.8 930,1091.9 933.3,1090.4 935.1,1089.5 941.2,1086.6 944,1085.3 946.8,1084 949,1083 957.3,1079.2 959.9,1078 962.8,1076.8 965.2,1075.7 967,1074.9 970.4,1073.4 980.2,1069.2 981.6,1068.6 985.8,1066.8 988.1,1065.9 990.7,1064.8 994.5,1063.2 997.3,1062.1 999.8,1061 1002.3,1060 1011.9,1056.1 1014.1,1055.3 1017.7,1053.9 1020.2,1052.9 1023.7,1051.5 1026,1050.6 1036.3,1046.6 1040.1,1045.2 1041.7,1044.6 1044.5,1043.5 1047.7,1042.4 1050.3,1041.4 1053.4,1040.2 1061,1037.4 1064.6,1036.1 1069,1034.5 1071,1033.8 1074,1032.7 1076.5,1031.8 1080.1,1030.6 1081.9,1029.9 1084.9,1028.9 1087.5,1028 1090.8,1026.8 1104.3,1022.1 1108.4,1020.7 1109.7,1020.3 1113.5,1019 1121,1016.5 1123.1,1015.8 1128.3,1014.1 1131.6,1013 1133.3,1012.4 1134.9,1011.9 1136.6,1011.3 1138.8,1010.6 1139.7,1010.3 1142.1,1009.5 1143.8,1009 1144.7,1008.7 1146.6,1008.1 1147.9,1007.6 1150.4,1006.8 1151.5,1006.5 1152.9,1006 1155.4,1005.3 1156.7,1004.9 1158.6,1004.2 1160.4,1003.7 1161.8,1003.2 1163.1,1002.8 1165.4,1002.1 1166.2,1001.8 1168.4,1001.1 1170.3,1000.5 1171.3,1000.2 1173.4,999.6 1175.3,999 1176.6,998.6 1178.2,998.1 1179.6,997.6 1182,996.9 1183.3,996.5 1184.9,996 1186.4,995.5 1188.2,995 1190.4,994.3 1192.2,993.8 1193.5,993.4 1195.1,992.9 1196.7,992.4 1198.8,991.7 1200.1,991.4 1201.9,990.8 1202.9,990.5 1204.8,989.9 1207.8,989 1209.5,988.5 1212.8,987.5 1216.7,986.4 1219,985.7 1221.5,985 1231.1,982.1 1235.1,981 1238.9,979.9 1243.2,978.6 1247.3,977.4 1251.2,976.3 1254.5,975.4 1257,974.6 1265.8,972.1 1269.6,971.1 1275.7,969.4 1279.3,968.3 1284.3,967 1287.3,966.1 1293.4,964.4 1295.5,963.9 1298,963.2 1302.8,961.9 1306.7,960.8 1309.2,960.1 1314.8,958.6 1317.4,957.9 1320.9,957 1323.6,956.2 1329.3,954.7 1332.3,953.9 1334.3,953.4 1338,952.4 1340.8,951.7 1342.4,951.2 1346.5,950.2 1355.9,947.7 1359.7,946.7 1362.4,946 1364.5,945.5 1367,944.8 1371.1,943.8 1373.8,943.1 1381.3,941.2 1384.3,940.4 1387.5,939.6 1392.2,938.4 1396.6,937.3 1398.3,936.9 1401.5,936 1404.5,935.3 1407.2,934.6 1409.5,934 1412.8,933.2 1416.4,932.3 1429.3,929.1 1431.6,928.6 1438.4,926.9 1440.9,926.3 1443.8,925.6 1446.7,924.9 1449.8,924.1 1452.1,923.6 1459.3,921.8 1462,921.2 1464.3,920.6 1466.9,920 1470.9,919 1472.9,918.6 1476.6,917.7 1479.9,916.9 1488.6,914.9 1489.9,914.5 1494.1,913.6 755.8,1433.2 755.9,1431.9 755.9,1430.6 756,1429.4 756,1429.1 756.1,1428.4 756.2,1427.6 756.2,1427.1 756.3,1426.6 756.3,1426.1 756.4,1425.5 756.5,1424.9 756.5,1424.7 756.6,1424.1 756.6,1423.7 756.7,1423.4 756.7,1422.9 756.8,1422.5 756.9,1422.2 756.9,1421.9 757,1421.6 757,1421.3 757.1,1420.9 757.1,1420.6 757.2,1420.3 757.2,1420.1 757.3,1419.6 757.4,1419.3 757.4,1419.1 757.5,1418.8 757.5,1418.5 757.6,1418.4 757.6,1418 757.7,1417.8 757.7,1417.5 757.8,1417.2 757.8,1417.1 757.9,1416.7 758,1416.5 758,1416.2 758.4,1414.9 759.5,1410.7 760.5,1407.7 761.2,1405.6 762.2,1403.1 763.5,1399.8 764.5,1397.7 765,1396.6 766.3,1393.9 767.1,1392.4 768.1,1390.5 769.1,1388.7 770,1387.2 771.1,1385.3 771.8,1384.3 772.9,1382.6 773.8,1381.2 775,1379.4 775.7,1378.4 776.9,1376.7 777.8,1375.4 778.3,1374.7 779.2,1373.5 780.3,1372.1 781.2,1371 782.4,1369.4 783.3,1368.4 784.4,1367 785.1,1366.2 786.4,1364.7 787.2,1363.8 788,1362.8 788.8,1362 789.8,1360.9 790.7,1359.9 792.1,1358.4 792.8,1357.6 793.9,1356.5 794.7,1355.7 795.7,1354.7 796.8,1353.6 797.7,1352.6 798.5,1351.8 799.4,1351 800.2,1350.2 801.4,1349.1 802.1,1348.4 803.4,1347.3 804.4,1346.3 805.1,1345.6 806.2,1344.6 807.4,1343.6 808.2,1342.9 808.8,1342.4 809.8,1341.5 810.7,1340.7 812,1339.6 812.7,1339 813.8,1338.1 814.6,1337.4 815.7,1336.5 816.6,1335.8 817.6,1334.9 818.3,1334.4 819.7,1333.3 820.7,1332.5 821.6,1331.7 822.4,1331.1 823.3,1330.4 824.4,1329.5 824.9,1329.2 826.3,1328.1 827.1,1327.5 827.9,1326.9 829.2,1325.9 830.1,1325.2 830.7,1324.8 831.9,1323.9 832.7,1323.4 833.5,1322.7 834.7,1321.9 835.6,1321.3 836.9,1320.3 837.8,1319.7 838.3,1319.3 839.5,1318.5 840.3,1317.9 841.5,1317.1 842.4,1316.5 843.5,1315.8 844.4,1315.1 845.2,1314.6 846,1314 847.2,1313.2 848.3,1312.5 849.3,1311.9 850.1,1311.3 851.1,1310.7 851.9,1310.2 853.1,1309.4 854.2,1308.7 858.2,1306.1 860.7,1304.5 862.8,1303.2 871.2,1298.2 874,1296.5 876,1295.3 878.5,1293.9 881,1292.5 883.7,1290.9 887.2,1289 889.4,1287.7 892.8,1285.9 904.5,1279.6 907.5,1278 910.6,1276.5 913.1,1275.2 916.2,1273.6 919,1272.2 922.1,1270.7 925.3,1269.1 928.1,1267.7 942.8,1260.7 944.8,1259.8 947.8,1258.4 951,1256.9 953.5,1255.8 957.6,1253.9 962.4,1251.8 968,1249.3 969.4,1248.7 973.3,1247 975.7,1246 978,1245 980.7,1243.8 983.3,1242.7 986.8,1241.3 989.6,1240.1 1001.3,1235.3 1005.3,1233.6 1007.6,1232.7 1010.5,1231.5 1014.2,1230.1 1016.9,1229 1018.7,1228.3 1022,1227 1033.3,1222.6 1036.9,1221.2 1039.5,1220.2 1041.5,1219.5 1044.4,1218.4 1047.8,1217.1 1054.3,1214.7 1057.1,1213.7 1060.2,1212.6 1063,1211.5 1073.3,1207.8 1075.3,1207.1 1081.3,1204.9 1084.2,1203.9 1087.5,1202.8 1090.3,1201.8 1093.2,1200.8 1096,1199.8 1100.8,1198.2 1104.9,1196.8 1106.3,1196.3 1114.6,1193.5 1118.1,1192.3 1123.4,1190.5 1127.3,1189.2 1131.2,1187.9 1133.4,1187.2 1134.7,1186.8 1136.3,1186.3 1138.5,1185.5 1140.4,1184.9 1141.9,1184.4 1143,1184.1 1145.5,1183.3 1146.5,1182.9 1148.5,1182.3 1149.5,1182 1151.6,1181.3 1153,1180.9 1154.8,1180.3 1156.2,1179.8 1158.1,1179.2 1159.8,1178.7 1162,1178 1163.7,1177.4 1165,1177 1167.2,1176.3 1168.1,1176.1 1170,1175.5 1171.7,1174.9 1173,1174.5 1175.1,1173.9 1176.6,1173.4 1178.2,1172.9 1179.9,1172.4 1182,1171.7 1183.3,1171.3 1185.5,1170.6 1187.1,1170.2 1188.7,1169.7 1190.5,1169.1 1191.2,1168.9 1193.2,1168.3 1195.1,1167.7 1196.6,1167.2 1197.9,1166.8 1200.4,1166.1 1201.4,1165.8 1203,1165.3 1205.5,1164.6 1206.8,1164.2 1210.1,1163.2 1213.7,1162.1 1215.1,1161.7 1218.1,1160.8 1221.4,1159.8 1225,1158.7 1231.8,1156.8 1234.7,1155.9 1238.4,1154.8 1241,1154.1 1243,1153.5 1246.6,1152.5 1248.6,1151.9 1252.6,1150.7 1267.4,1146.5 1271.2,1145.5 1272.7,1145 1276,1144.1 1279.4,1143.2 1282.7,1142.2 1296,1138.6 1299.3,1137.7 1301.8,1137 1310.2,1134.7 1313.5,1133.8 1315.4,1133.3 1318.2,1132.5 1322.1,1131.5 1324.3,1130.9 1327.9,1129.9 1330.8,1129.2 1339.7,1126.8 1342.4,1126.1 1345.7,1125.2 1348.6,1124.5 1352.2,1123.5 1354.5,1122.9 1366.3,1119.8 1369.8,1118.9 1372.8,1118.2 1375.6,1117.5 1378.7,1116.7 1382.1,1115.8 1388.3,1114.2 1391.1,1113.5 1394.8,1112.6 1396.5,1112.1 1400.2,1111.2 1403.2,1110.4 1406.1,1109.7 1408.1,1109.2 1422.1,1105.7 1424.9,1105 1427.6,1104.4 1430.4,1103.7 1433.4,1103 1435.3,1102.5 1438.4,1101.7 1440.7,1101.2 1443.5,1100.5 1459.8,1096.6 1462.3,1095.9 1464.8,1095.3 1467.7,1094.6 1475.1,1092.9 1478.7,1092 1480.7,1091.6 1483.9,1090.8 1487.9,1089.9 1494.5,1088.3"/>
<polyline class="r" points="755.8,1260.5 759.6,1235.7 763.3,1225.5 767.1,1217.6 770.8,1211 774.6,1205.2 778.3,1199.9 782.1,1195.1 785.8,1190.5 789.6,1186.3 793.3,1182.3 797.1,1178.5 800.8,1174.8 804.6,1171.3 808.3,1168 812.1,1164.7 815.8,1161.6 819.6,1158.5 823.3,1155.6 827.1,1152.7 830.8,1149.9 834.6,1147.2 838.3,1144.5 842.1,1141.9 845.8,1139.3 849.6,1136.8 853.3,1134.4 857.1,1132 860.8,1129.6 864.6,1127.3 868.3,1125 872.1,1122.8 875.8,1120.6 879.6,1118.4 883.3,1116.3 887.1,1114.2 890.8,1112.1 894.6,1110.1 898.3,1108.1 902.1,1106.1 905.8,1104.1 909.6,1102.1 913.3,1100.2 917.1,1098.3 920.8,1096.5 924.6,1094.6 928.3,1092.8 932.1,1091 935.8,1089.2 939.6,1087.4 943.3,1085.6 947.1,1083.9 950.8,1082.2 954.6,1080.5 958.3,1078.8 962.1,1077.1 965.8,1075.4 969.6,1073.8 973.3,1072.2 977.1,1070.5 980.8,1068.9 984.6,1067.4 988.3,1065.8 992.1,1064.2 995.8,1062.7 999.6,1061.1 1003.3,1059.6 1007.1,1058.1 1010.8,1056.6 1014.6,1055.1 1018.3,1053.6 1022.1,1052.1 1025.8,1050.7 1029.6,1049.2 1033.3,1047.8 1037.1,1046.3 1040.8,1044.9 1044.6,1043.5 1048.3,1042.1 1052.1,1040.7 1055.8,1039.3 1059.6,1037.9 1063.3,1036.6 1067.1,1035.2 1070.8,1033.9 1074.6,1032.5 1078.3,1031.2 1082.1,1029.8 1085.8,1028.5 1089.6,1027.2 1093.3,1025.9 1097.1,1024.6 1100.8,1023.3 1104.6,1022 1108.3,1020.7 1112.1,1019.5 1115.8,1018.2 1119.6,1017 1123.3,1015.7 1127.1,1014.5 1130.8,1013.2 1134.6,1012 1138.4,1010.8 1142.1,1009.5 1145.9,1008.3 1149.6,1007.1 1153.4,1005.9 1157.1,1004.7 1160.9,1003.5 1164.6,1002.3 1168.4,1001.1 1172.1,1000 1175.9,998.8 1179.6,997.6 1183.4,996.5 1187.1,995.3 1190.9,994.2 1194.6,993 1198.4,991.9 1202.1,990.7 1205.9,989.6 1209.6,988.5 1213.4,987.4 1217.1,986.3 1220.9,985.1 1224.6,984 1228.4,982.9 1232.1,981.8 1235.9,980.7 1239.6,979.6 1243.4,978.6 1247.1,977.5 1250.9,976.4 1254.6,975.3 1258.4,974.3 1262.1,973.2 1265.9,972.1 1269.6,971.1 1273.4,970 1277.1,969 1280.9,967.9 1284.6,966.9 1288.4,965.8 1292.1,964.8 1295.9,963.8 1299.6,962.7 1303.4,961.7 1307.1,960.7 1310.9,959.7 1314.6,958.7 1318.4,957.6 1322.1,956.6 1325.9,955.6 1329.6,954.6 1333.4,953.6 1337.1,952.6 1340.9,951.6 1344.6,950.7 1348.4,949.7 1352.1,948.7 1355.9,947.7 1359.6,946.7 1363.4,945.8 1367.1,944.8 1370.9,943.8 1374.6,942.9 1378.4,941.9 1382.1,940.9 1385.9,940 1389.6,939 1393.4,938.1 1397.1,937.1 1400.9,936.2 1404.6,935.3 1408.4,934.3 1412.1,933.4 1415.9,932.5 1419.6,931.5 1423.4,930.6 1427.1,929.7 1430.9,928.7 1434.6,927.8 1438.4,926.9 1442.1,926 1445.9,925.1 1449.6,924.2 1453.4,923.3 1457.1,922.4 1460.9,921.5 1464.6,920.6 1468.4,919.7 1472.1,918.8 1475.9,917.9 1479.6,917 1483.4,916.1 1487.1,915.2 1490.9,914.3 1494.6,913.4 1498.4,912.6 1502.1,911.7 1505.9,910.8 755.8,1435.3 759.6,1410.6 763.3,1400.3 767.1,1392.5 770.8,1385.8 774.6,1380 778.3,1374.7 782.1,1369.9 785.8,1365.4 789.6,1361.1 793.3,1357.1 797.1,1353.3 800.8,1349.6 804.6,1346.2 808.3,1342.8 812.1,1339.5 815.8,1336.4 819.6,1333.4 823.3,1330.4 827.1,1327.5 830.8,1324.7 834.6,1322 838.3,1319.3 842.1,1316.7 845.8,1314.2 849.6,1311.7 853.3,1309.2 857.1,1306.8 860.8,1304.5 864.6,1302.2 868.3,1299.9 872.1,1297.6 875.8,1295.4 879.6,1293.3 883.3,1291.1 887.1,1289 890.8,1286.9 894.6,1284.9 898.3,1282.9 902.1,1280.9 905.8,1278.9 909.6,1277 913.3,1275.1 917.1,1273.2 920.8,1271.3 924.6,1269.4 928.3,1267.6 932.1,1265.8 935.8,1264 939.6,1262.2 943.3,1260.5 947.1,1258.7 950.8,1257 954.6,1255.3 958.3,1253.6 962.1,1251.9 965.8,1250.3 969.6,1248.6 973.3,1247 977.1,1245.4 980.8,1243.8 984.6,1242.2 988.3,1240.6 992.1,1239.1 995.8,1237.5 999.6,1236 1003.3,1234.4 1007.1,1232.9 1010.8,1231.4 1014.6,1229.9 1018.3,1228.4 1022.1,1227 1025.8,1225.5 1029.6,1224 1033.3,1222.6 1037.1,1221.2 1040.8,1219.8 1044.6,1218.3 1048.3,1216.9 1052.1,1215.5 1055.8,1214.2 1059.6,1212.8 1063.3,1211.4 1067.1,1210 1070.8,1208.7 1074.6,1207.3 1078.3,1206 1082.1,1204.7 1085.8,1203.4 1089.6,1202 1093.3,1200.7 1097.1,1199.4 1100.8,1198.1 1104.6,1196.9 1108.3,1195.6 1112.1,1194.3 1115.8,1193 1119.6,1191.8 1123.3,1190.5 1127.1,1189.3 1130.8,1188 1134.6,1186.8 1138.4,1185.6 1142.1,1184.4 1145.9,1183.2 1149.6,1181.9 1153.4,1180.7 1157.1,1179.5 1160.9,1178.3 1164.6,1177.2 1168.4,1176 1172.1,1174.8 1175.9,1173.6 1179.6,1172.5 1183.4,1171.3 1187.1,1170.2 1190.9,1169 1194.6,1167.9 1198.4,1166.7 1202.1,1165.6 1205.9,1164.4 1209.6,1163.3 1213.4,1162.2 1217.1,1161.1 1220.9,1160 1224.6,1158.9 1228.4,1157.8 1232.1,1156.7 1235.9,1155.6 1239.6,1154.5 1243.4,1153.4 1247.1,1152.3 1250.9,1151.2 1254.6,1150.2 1258.4,1149.1 1262.1,1148 1265.9,1147 1269.6,1145.9 1273.4,1144.8 1277.1,1143.8 1280.9,1142.7 1284.6,1141.7 1288.4,1140.7 1292.1,1139.6 1295.9,1138.6 1299.6,1137.6 1303.4,1136.5 1307.1,1135.5 1310.9,1134.5 1314.6,1133.5 1318.4,1132.5 1322.1,1131.5 1325.9,1130.5 1329.6,1129.5 1333.4,1128.5 1337.1,1127.5 1340.9,1126.5 1344.6,1125.5 1348.4,1124.5 1352.1,1123.5 1355.9,1122.5 1359.6,1121.6 1363.4,1120.6 1367.1,1119.6 1370.9,1118.7 1374.6,1117.7 1378.4,1116.7 1382.1,1115.8 1385.9,1114.8 1389.6,1113.9 1393.4,1112.9 1397.1,1112 1400.9,1111 1404.6,1110.1 1408.4,1109.2 1412.1,1108.2 1415.9,1107.3 1419.6,1106.4 1423.4,1105.4 1427.1,1104.5 1430.9,1103.6 1434.6,1102.7 1438.4,1101.7 1442.1,1100.8 1445.9,1099.9 1449.6,1099 1453.4,1098.1 1457.1,1097.2 1460.9,1096.3 1464.6,1095.4 1468.4,1094.5 1472.1,1093.6 1475.9,1092.7 1479.6,1091.8 1483.4,1090.9 1487.1,1090 1490.9,1089.1 1494.6,1088.3 1498.4,1087.4 1502.1,1086.5 1505.9,1085.6"/>
<rect class="lg" x="1146.6" y="1275.6" width="335" height="138"/>
<polyline class="b" points="1167.2,1312.3"/>
<polyline class="r" points="1167.8,1375.8"/>
<text x="1187.3" y="1326.9">Obtained PS</text>
<text x="1187.8" y="1390">True PS</text>
<text text-anchor="middle" x="755.8" y="1513.1">0</text>
<text text-anchor="middle" x="905.8" y="1513.1">0.2</text>
<text text-anchor="middle" x="1055.8" y="1513.1">0.4</text>
<text text-anchor="middle" x="1205.9" y="1513.1">0.6</text>
<text text-anchor="middle" x="1355.9" y="1513.1">0.8</text>
<text text-anchor="middle" x="1505.9" y="1513.1">1.0</text>
<text text-anchor="end" x="714.3" y="1447">0</text>
<text text-anchor="end" x="714.3" y="1272.2">0.5</text>
<text text-anchor="end" x="714.3" y="1097.3">1.0</text>
<text text-anchor="end" x="714.3" y="922.5">1.5</text>
<text filter="url(#gs)" x="1110.3" y="1581.3"><tspan class="i">x</tspan><tspan class="s" dx="0.5" dy="10.4">1</tspan></text>
<text filter="url(#gs)" transform="translate(612.3 1199.5) rotate(-90)"><tspan class="i">x</tspan><tspan class="s" dx="2" dy="11">2</tspan></text>
<text text-anchor="middle" x="1130.8" y="1658.7">(d) ZS-MO_Ring_PSO_SCD</text>
</g>
<g id="plot-e">
<rect class="ax" x="1799.8" y="909.5" width="749.8" height="525.8"/>
<path class="tk" d="M1949.8 1435.3v-9M1949.8 909.5v9M2099.7 1435.3v-9M2099.7 909.5v9M2249.7 1435.3v-9M2249.7 909.5v9M2399.6 1435.3v-9M2399.6 909.5v9M1799.8 1260h9M2549.6 1260h-9M1799.8 1084.8h9M2549.6 1084.8h-9"/>
<polyline class="b" points="1801.3,1244.4 1807.3,1225 1815.5,1209.2 1829.8,1189.9 1835.8,1183.2 1846.3,1172.8 1875.8,1148.4 1878.4,1146.6 1880.9,1144.7 1882.9,1143.3 1885.4,1141.6 1887.4,1140.2 1890.2,1138.3 1892.3,1136.9 1903.3,1129.8 1917.6,1121.1 1921.3,1118.9 1926.6,1115.9 1929.9,1114 1932.8,1112.4 1935.6,1110.9 1939.5,1108.7 1941.7,1107.6 1945.6,1105.5 1958.7,1098.6 1963.6,1096.2 1973,1091.5 1976.4,1089.9 1978.7,1088.8 1989.1,1083.9 1990.8,1083.1 1993.7,1081.8 1998.2,1079.7 2001,1078.4 2003.3,1077.4 2006.3,1076.1 2009.1,1074.8 2021,1069.7 2023.1,1068.7 2026.7,1067.2 2030.4,1065.7 2032.9,1064.6 2036.4,1063.1 2053.1,1056.3 2054.8,1055.6 2058.2,1054.2 2067.3,1050.7 2070.2,1049.5 2071.7,1048.9 2075.5,1047.5 2077.8,1046.6 2081.8,1045.1 2091,1041.6 2093.3,1040.7 2097,1039.4 2100.4,1038.1 2106.7,1035.8 2111,1034.2 2118.7,1031.4 2121.8,1030.3 2125.6,1029 2134.9,1025.7 2138.3,1024.5 2141.4,1023.4 2143.8,1022.6 2147,1021.5 2154.1,1019.1 2157,1018.1 2160.7,1016.8 2162.8,1016.1 2166.7,1014.8 2178.5,1010.9 2181,1010.1 2185.4,1008.6 2187.9,1007.8 2192.2,1006.5 2201.8,1003.4 2204.2,1002.6 2207.7,1001.5 2209.7,1000.8 2212.7,999.9 2214.7,999.3 2216.6,998.7 2218.1,998.2 2219.5,997.8 2221.3,997.2 2223.5,996.5 2224.6,996.2 2226.2,995.7 2228.3,995 2229.6,994.6 2231.9,993.9 2232.9,993.6 2235.2,992.9 2237,992.4 2238.6,991.9 2239.8,991.5 2242.2,990.8 2243,990.5 2245.1,989.9 2246.3,989.5 2248.1,989 2250.3,988.3 2251.6,987.9 2253.1,987.5 2255.6,986.7 2256.9,986.3 2258.2,986 2260.7,985.2 2261.8,984.9 2263.6,984.4 2265.1,983.9 2266.9,983.4 2269,982.7 2269.9,982.5 2271.6,982 2274,981.3 2275.3,980.9 2277,980.4 2279.1,979.8 2280.4,979.4 2282.5,978.8 2284,978.3 2285.9,977.8 2287.6,977.3 2288.8,976.9 2290.8,976.4 2291.9,976 2294.1,975.4 2295.8,974.9 2297.3,974.5 2299.6,973.9 2301,973.4 2302.8,972.9 2304.6,972.4 2305.8,972.1 2307.8,971.5 2308.7,971.2 2310.7,970.7 2312.5,970.2 2314.1,969.7 2315.7,969.3 2317.6,968.7 2319,968.3 2321.3,967.7 2322.9,967.2 2324.1,966.9 2325.9,966.4 2327.3,966 2329.9,965.3 2330.7,965.1 2332.7,964.5 2334.2,964.1 2336,963.6 2338.3,963 2339.3,962.7 2341.5,962.1 2342.5,961.8 2344.8,961.2 2346.6,960.7 2348.4,960.2 2349.8,959.8 2351.8,959.3 2353,959 2354.8,958.5 2356.7,957.9 2357.7,957.7 2359.8,957.1 2361.5,956.6 2363.4,956.1 2364.8,955.8 2366.6,955.3 2368.5,954.8 2370.2,954.3 2371.9,953.9 2373,953.6 2375.1,953 2376.3,952.7 2378.1,952.2 2379.9,951.7 2382.1,951.1 2383.6,950.7 2384.9,950.4 2387.2,949.8 2388.2,949.5 2390.4,948.9 2391.6,948.6 2393.1,948.2 2395.1,947.7 2396.8,947.3 2398.2,946.9 2400.7,946.2 2402.1,945.9 2404,945.4 2404.9,945.1 2406.6,944.7 2408.4,944.2 2410.2,943.8 2412.5,943.2 2413.8,942.8 2415.8,942.3 2417.2,942 2419.2,941.4 2420.3,941.2 2422.1,940.7 2423.8,940.2 2425.8,939.7 2427.5,939.3 2428.8,939 2430.4,938.6 2432.2,938.1 2434,937.7 2435.5,937.3 2437,936.9 2439.2,936.3 2440.7,936 2442.8,935.4 2443.9,935.2 2445.6,934.7 2447.3,934.3 2449.3,933.8 2450.7,933.4 2452.2,933 2454.7,932.4 2455.7,932.2 2457.4,931.8 2459.7,931.2 2461.5,930.7 2462.5,930.5 2464,930.1 2466.6,929.5 2467.6,929.2 2469.7,928.7 2470.8,928.4 2473.1,927.9 2474.4,927.5 2475.8,927.2 2478.1,926.6 2479.6,926.3 2481.5,925.8 2482.5,925.6 2484.2,925.1 2486.3,924.6 2488.1,924.2 2489.4,923.9 2491.3,923.4 2493,923 2495.2,922.5 2496.4,922.2 2498.2,921.7 2499.7,921.4 2501.7,920.9 2503.3,920.5 2505.4,920 2506.4,919.7 2508.6,919.2 2509.6,919 2511.3,918.6 2513.5,918 2514.6,917.8 2516.6,917.3 2518.5,916.8 2520.2,916.4 2522.1,916 2523.3,915.7 2525.4,915.2 2526.5,914.9 2528.1,914.6 2529.9,914.1 2531.6,913.7 2533.1,913.4 2535.4,912.8 2537,912.5 2538.8,912 2540.1,911.7 2542.4,911.2 2543.4,910.9 2545.8,910.4 2547.4,910 2549.1,909.6 2547.4,910 2548.9,909.7 2549.6,909.5 1799.8,1435.3 1804.3,1408.1 1822.3,1374.6 1832,1362.6 1856,1339.3 1867.3,1330.1 1889.8,1313.9 1910.8,1300.4 1925,1292.1 1940.5,1283.5 1942.9,1282.2 1944.5,1281.3 1947.1,1279.9 1950.7,1278.1 1952.5,1277.1 1954.8,1275.9 1958.6,1274 1960.4,1273.1 1963.1,1271.7 1979.8,1263.6 2002.2,1253.2 2022.5,1244.3 2029.2,1241.4 2062.2,1227.9 2067.5,1225.9 2073.5,1223.5 2084.7,1219.2 2092.7,1216.2 2095.2,1215.3 2096.9,1214.6 2098.2,1214.2 2099.8,1213.6 2101.9,1212.8 2103,1212.4 2105.3,1211.6 2106.3,1211.2 2108.3,1210.5 2110,1209.8 2112,1209.1 2113.8,1208.5 2114.8,1208.1 2116.4,1207.5 2118.6,1206.7 2119.6,1206.4 2121.9,1205.6 2123.7,1204.9 2125.6,1204.2 2126.8,1203.8 2128,1203.4 2130.2,1202.6 2132.2,1201.9 2133.3,1201.5 2135.3,1200.8 2137.2,1200.2 2138.2,1199.8 2140.8,1198.9 2141.8,1198.6 2143.5,1198 2145.4,1197.3 2146.9,1196.8 2148.6,1196.2 2150.2,1195.7 2151.9,1195.1 2154.1,1194.4 2155.2,1194 2156.7,1193.4 2159.1,1192.6 2160.5,1192.2 2161.9,1191.7 2163.8,1191.1 2166,1190.3 2167.3,1189.9 2169.3,1189.2 2170.7,1188.8 2172.3,1188.2 2174.5,1187.5 2175.3,1187.2 2177.7,1186.5 2178.9,1186.1 2180.8,1185.4 2182.9,1184.7 2184.2,1184.3 2186.3,1183.6 2188,1183.1 2189,1182.7 2191.2,1182 2192.1,1181.7 2194.5,1181 2196.2,1180.4 2197.2,1180.1 2199.2,1179.5 2200.7,1179 2203.1,1178.2 2204.1,1177.9 2205.9,1177.3 2207.8,1176.7 2209.3,1176.3 2211,1175.7 2212.8,1175.1 2214.4,1174.6 2215.9,1174.2 2218.3,1173.4 2219.2,1173.1 2221.3,1172.5 2222.7,1172 2225,1171.3 2226.8,1170.8 2228.4,1170.3 2230.2,1169.7 2231.8,1169.2 2232.6,1169 2235.1,1168.2 2236.9,1167.7 2237.8,1167.4 2239.7,1166.8 2241,1166.4 2243.1,1165.8 2245,1165.2 2246.1,1164.9 2248.5,1164.1 2249.6,1163.8 2251.3,1163.3 2253.1,1162.7 2255.2,1162.1 2257,1161.6 2258.5,1161.1 2259.8,1160.7 2261.7,1160.2 2263.3,1159.7 2265.2,1159.1 2266.6,1158.7 2268.4,1158.2 2270.3,1157.6 2271.9,1157.1 2273.8,1156.6 2274.9,1156.3 2276.8,1155.7 2279.1,1155 2280.2,1154.7 2281.6,1154.3 2284,1153.6 2285.7,1153.1 2286.8,1152.8 2288.7,1152.3 2290.8,1151.7 2292.4,1151.2 2293.6,1150.8 2295,1150.4 2297.6,1149.7 2298.6,1149.4 2300.6,1148.8 2302.2,1148.4 2304.4,1147.7 2305.4,1147.5 2307.1,1147 2308.8,1146.5 2310.8,1145.9 2312.6,1145.4 2314.1,1145 2315.6,1144.6 2317.3,1144.1 2318.9,1143.6 2321.1,1143 2322.6,1142.6 2324,1142.2 2325.4,1141.8 2327.4,1141.3 2329.7,1140.6 2330.5,1140.4 2332.1,1139.9 2334,1139.4 2336,1138.9 2337.4,1138.5 2339.7,1137.8 2341.3,1137.4 2343.1,1136.9 2344.1,1136.6 2346.4,1136 2347.8,1135.6 2349.1,1135.3 2351.3,1134.7 2352.6,1134.3 2354.9,1133.7 2356.2,1133.3 2357.9,1132.9 2359.5,1132.4 2361.5,1131.9 2363.1,1131.5 2364.9,1131 2366.4,1130.6 2368.2,1130.1 2369.6,1129.7 2371.4,1129.2 2373.1,1128.8 2374.5,1128.4 2376.2,1128 2378.4,1127.4 2380.2,1126.9 2381.5,1126.5 2383.5,1126 2385,1125.6 2386.6,1125.2 2388,1124.8 2390.2,1124.2 2391.8,1123.8 2393.2,1123.5 2395.1,1123 2396.6,1122.6 2398.7,1122 2400.4,1121.6 2402.3,1121.1 2403.9,1120.7 2405.3,1120.3 2406.7,1119.9 2408.5,1119.5 2410.3,1119 2411.6,1118.7 2413.2,1118.3 2415.1,1117.7 2417.2,1117.2 2418.9,1116.8 2420.8,1116.3 2421.8,1116 2423.5,1115.6 2425.9,1115 2427.1,1114.7 2428.5,1114.3 2430.2,1113.9 2432.4,1113.3 2433.8,1113 2435.6,1112.5 2437.3,1112.1 2438.6,1111.8 2440.4,1111.3 2442.4,1110.8 2444.4,1110.3 2446.1,1109.9 2447.7,1109.5 2449.3,1109.1 2450.8,1108.7 2452.7,1108.2 2453.7,1108 2455.6,1107.5 2457,1107.1 2458.9,1106.7 2460.9,1106.2 2462.6,1105.7 2464.1,1105.3 2466.1,1104.9 2467.6,1104.5 2469.3,1104.1 2470.5,1103.8 2472.6,1103.2 2474.6,1102.8 2476.2,1102.4 2478,1101.9 2479.6,1101.5 2481.2,1101.1 2482.7,1100.8 2484.7,1100.3 2486,1100 2487.8,1099.5 2489.4,1099.1 2491.1,1098.7 2492.6,1098.4 2494.7,1097.8 2496.2,1097.5 2504.6,1095.4 2513.6,1093.3 2517.4,1092.4 2525.6,1090.4"/>
<polyline class="r" points="1799.8,1260 1803.5,1235.2 1807.3,1225 1811,1217.1 1814.8,1210.5 1818.5,1204.6 1822.3,1199.3 1826,1194.5 1829.8,1189.9 1833.5,1185.7 1837.3,1181.7 1841,1177.8 1844.8,1174.2 1848.5,1170.7 1852.3,1167.3 1856,1164 1859.8,1160.9 1863.5,1157.8 1867.3,1154.9 1871,1152 1874.8,1149.2 1878.5,1146.4 1882.3,1143.8 1886,1141.2 1889.8,1138.6 1893.5,1136.1 1897.3,1133.6 1901,1131.2 1904.8,1128.9 1908.5,1126.6 1912.3,1124.3 1916,1122 1919.8,1119.8 1923.5,1117.6 1927.3,1115.5 1931,1113.4 1934.8,1111.3 1938.5,1109.3 1942.3,1107.2 1946,1105.2 1949.8,1103.3 1953.5,1101.3 1957.3,1099.4 1961,1097.5 1964.8,1095.6 1968.5,1093.8 1972.3,1091.9 1976,1090.1 1979.8,1088.3 1983.5,1086.5 1987.2,1084.8 1991,1083 1994.7,1081.3 1998.5,1079.6 2002.2,1077.9 2006,1076.2 2009.7,1074.5 2013.5,1072.9 2017.2,1071.3 2021,1069.6 2024.7,1068 2028.5,1066.4 2032.2,1064.9 2036,1063.3 2039.7,1061.7 2043.5,1060.2 2047.2,1058.7 2051,1057.1 2054.7,1055.6 2058.5,1054.1 2062.2,1052.7 2066,1051.2 2069.7,1049.7 2073.5,1048.3 2077.2,1046.8 2081,1045.4 2084.7,1044 2088.5,1042.5 2092.2,1041.1 2096,1039.7 2099.7,1038.3 2103.5,1037 2107.2,1035.6 2111,1034.2 2114.7,1032.9 2118.5,1031.5 2122.2,1030.2 2126,1028.8 2129.7,1027.5 2133.5,1026.2 2137.2,1024.9 2141,1023.6 2144.7,1022.3 2148.5,1021 2152.2,1019.7 2156,1018.4 2159.7,1017.2 2163.5,1015.9 2167.2,1014.7 2171,1013.4 2174.7,1012.2 2178.4,1010.9 2182.2,1009.7 2185.9,1008.5 2189.7,1007.3 2193.4,1006 2197.2,1004.8 2200.9,1003.6 2204.7,1002.4 2208.4,1001.3 2212.2,1000.1 2215.9,998.9 2219.7,997.7 2223.4,996.5 2227.2,995.4 2230.9,994.2 2234.7,993.1 2238.4,991.9 2242.2,990.8 2245.9,989.6 2249.7,988.5 2253.4,987.4 2257.2,986.3 2260.9,985.1 2264.7,984 2268.4,982.9 2272.2,981.8 2275.9,980.7 2279.7,979.6 2283.4,978.5 2287.2,977.4 2290.9,976.3 2294.7,975.3 2298.4,974.2 2302.2,973.1 2305.9,972 2309.7,971 2313.4,969.9 2317.2,968.9 2320.9,967.8 2324.7,966.8 2328.4,965.7 2332.2,964.7 2335.9,963.6 2339.7,962.6 2343.4,961.6 2347.2,960.5 2350.9,959.5 2354.7,958.5 2358.4,957.5 2362.1,956.5 2365.9,955.5 2369.6,954.4 2373.4,953.4 2377.1,952.4 2380.9,951.4 2384.6,950.5 2388.4,949.5 2392.1,948.5 2395.9,947.5 2399.6,946.5 2403.4,945.5 2407.1,944.6 2410.9,943.6 2414.6,942.6 2418.4,941.6 2422.1,940.7 2425.9,939.7 2429.6,938.8 2433.4,937.8 2437.1,936.9 2440.9,935.9 2444.6,935 2448.4,934 2452.1,933.1 2455.9,932.1 2459.6,931.2 2463.4,930.3 2467.1,929.3 2470.9,928.4 2474.6,927.5 2478.4,926.6 2482.1,925.6 2485.9,924.7 2489.6,923.8 2493.4,922.9 2497.1,922 2500.9,921.1 2504.6,920.2 2508.4,919.3 2512.1,918.4 2515.9,917.5 2519.6,916.6 2523.4,915.7 2527.1,914.8 2530.9,913.9 2534.6,913 2538.4,912.1 2542.1,911.3 2545.9,910.4 2549.6,909.5 1799.8,1435.3 1803.5,1410.5 1807.3,1400.2 1811,1392.4 1814.8,1385.7 1818.5,1379.9 1822.3,1374.6 1826,1369.7 1829.8,1365.2 1833.5,1360.9 1837.3,1356.9 1841,1353.1 1844.8,1349.4 1848.5,1345.9 1852.3,1342.6 1856,1339.3 1859.8,1336.2 1863.5,1333.1 1867.3,1330.1 1871,1327.3 1874.8,1324.5 1878.5,1321.7 1882.3,1319 1886,1316.4 1889.8,1313.9 1893.5,1311.4 1897.3,1308.9 1901,1306.5 1904.8,1304.1 1908.5,1301.8 1912.3,1299.5 1916,1297.3 1919.8,1295.1 1923.5,1292.9 1927.3,1290.8 1931,1288.7 1934.8,1286.6 1938.5,1284.5 1942.3,1282.5 1946,1280.5 1949.8,1278.5 1953.5,1276.6 1957.3,1274.7 1961,1272.8 1964.8,1270.9 1968.5,1269 1972.3,1267.2 1976,1265.4 1979.8,1263.6 1983.5,1261.8 1987.2,1260 1991,1258.3 1994.7,1256.6 1998.5,1254.9 2002.2,1253.2 2006,1251.5 2009.7,1249.8 2013.5,1248.2 2017.2,1246.5 2021,1244.9 2024.7,1243.3 2028.5,1241.7 2032.2,1240.1 2036,1238.6 2039.7,1237 2043.5,1235.5 2047.2,1233.9 2051,1232.4 2054.7,1230.9 2058.5,1229.4 2062.2,1227.9 2066,1226.4 2069.7,1225 2073.5,1223.5 2077.2,1222.1 2081,1220.6 2084.7,1219.2 2088.5,1217.8 2092.2,1216.4 2096,1215 2099.7,1213.6 2103.5,1212.2 2107.2,1210.8 2111,1209.5 2114.7,1208.1 2118.5,1206.8 2122.2,1205.4 2126,1204.1 2129.7,1202.8 2133.5,1201.5 2137.2,1200.2 2141,1198.9 2144.7,1197.6 2148.5,1196.3 2152.2,1195 2156,1193.7 2159.7,1192.4 2163.5,1191.2 2167.2,1189.9 2171,1188.7 2174.7,1187.4 2178.4,1186.2 2182.2,1185 2185.9,1183.7 2189.7,1182.5 2193.4,1181.3 2197.2,1180.1 2200.9,1178.9 2204.7,1177.7 2208.4,1176.5 2212.2,1175.3 2215.9,1174.2 2219.7,1173 2223.4,1171.8 2227.2,1170.7 2230.9,1169.5 2234.7,1168.3 2238.4,1167.2 2242.2,1166.1 2245.9,1164.9 2249.7,1163.8 2253.4,1162.6 2257.2,1161.5 2260.9,1160.4 2264.7,1159.3 2268.4,1158.2 2272.2,1157.1 2275.9,1156 2279.7,1154.9 2283.4,1153.8 2287.2,1152.7 2290.9,1151.6 2294.7,1150.5 2298.4,1149.4 2302.2,1148.4 2305.9,1147.3 2309.7,1146.2 2313.4,1145.2 2317.2,1144.1 2320.9,1143.1 2324.7,1142 2328.4,1141 2332.2,1139.9 2335.9,1138.9 2339.7,1137.9 2343.4,1136.8 2347.2,1135.8 2350.9,1134.8 2354.7,1133.8 2358.4,1132.7 2362.1,1131.7 2365.9,1130.7 2369.6,1129.7 2373.4,1128.7 2377.1,1127.7 2380.9,1126.7 2384.6,1125.7 2388.4,1124.7 2392.1,1123.7 2395.9,1122.8 2399.6,1121.8 2403.4,1120.8 2407.1,1119.8 2410.9,1118.8 2414.6,1117.9 2418.4,1116.9 2422.1,1115.9 2425.9,1115 2429.6,1114 2433.4,1113.1 2437.1,1112.1 2440.9,1111.2 2444.6,1110.2 2448.4,1109.3 2452.1,1108.3 2455.9,1107.4 2459.6,1106.5 2463.4,1105.5 2467.1,1104.6 2470.9,1103.7 2474.6,1102.8 2478.4,1101.8 2482.1,1100.9 2485.9,1100 2489.6,1099.1 2493.4,1098.2 2497.1,1097.3 2500.9,1096.4 2504.6,1095.4 2508.4,1094.5 2512.1,1093.6 2515.9,1092.7 2519.6,1091.8 2523.4,1091 2527.1,1090.1 2530.9,1089.2 2534.6,1088.3 2538.4,1087.4 2542.1,1086.5 2545.9,1085.6 2549.6,1084.8"/>
<rect class="lg" x="2190.3" y="1275.6" width="335" height="138"/>
<polyline class="b" points="2210.9,1312.3"/>
<polyline class="r" points="2211.5,1375.8"/>
<text x="2231" y="1326.9">Obtained PS</text>
<text x="2231.5" y="1390">True PS</text>
<text text-anchor="middle" x="1799.8" y="1513.1">0</text>
<text text-anchor="middle" x="1949.8" y="1513.1">0.2</text>
<text text-anchor="middle" x="2099.7" y="1513.1">0.4</text>
<text text-anchor="middle" x="2249.7" y="1513.1">0.6</text>
<text text-anchor="middle" x="2399.6" y="1513.1">0.8</text>
<text text-anchor="middle" x="2549.6" y="1513.1">1.0</text>
<text text-anchor="end" x="1758.3" y="1447">0</text>
<text text-anchor="end" x="1758.3" y="1271.7">0.5</text>
<text text-anchor="end" x="1758.3" y="1096.5">1.0</text>
<text text-anchor="end" x="1758.3" y="921.2">1.5</text>
<text filter="url(#gs)" x="2154.2" y="1581.3"><tspan class="i">x</tspan><tspan class="s" dx="0.5" dy="10.4">1</tspan></text>
<text filter="url(#gs)" transform="translate(1656.3 1199.5) rotate(-90)"><tspan class="i">x</tspan><tspan class="s" dx="2" dy="11">2</tspan></text>
<text text-anchor="middle" x="2174.7" y="1658.7">(e) DN-NSGAII</text>
</g>
<g id="plot-f">
<rect class="ax" x="755.8" y="1760.5" width="750.1" height="523.9"/>
<path class="tk" d="M905.8 2284.4v-9M905.8 1760.5v9M1055.8 2284.4v-9M1055.8 1760.5v9M1205.9 2284.4v-9M1205.9 1760.5v9M1355.9 2284.4v-9M1355.9 1760.5v9M755.8 2109.8h9M1505.9 2109.8h-9M755.8 1935.1h9M1505.9 1935.1h-9"/>
<polyline class="b" points="759.4,2085.6 761,2080.7 763.3,2074.7 764.5,2072.2 766.5,2068.1 767.9,2065.4 769.4,2062.8 772.1,2058.3 772.8,2057.1 774.8,2054.1 776.9,2051.2 778.5,2049 780.3,2046.6 781.6,2045 783.7,2042.4 785.2,2040.7 786.6,2039 789,2036.3 790.4,2034.7 792.3,2032.7 794,2030.9 795.9,2029 796.8,2028.2 798.9,2026 800.3,2024.7 802.3,2022.8 804.1,2021.1 806,2019.4 807.8,2017.8 809.2,2016.6 811.2,2014.8 812.1,2014.1 813.9,2012.5 816,2010.8 817.9,2009.3 819.8,2007.8 820.9,2006.9 822.4,2005.7 824.1,2004.3 826.7,2002.4 828.2,2001.3 829.8,2000.1 831.2,1999 832.8,1997.9 834.6,1996.6 836.3,1995.3 838.4,1993.8 839.7,1993 841.1,1992 842.8,1990.8 844.5,1989.6 846.3,1988.4 848.8,1986.8 850.5,1985.7 851.9,1984.8 853.8,1983.5 855.4,1982.5 856.6,1981.7 858.1,1980.8 859.8,1979.7 862.2,1978.2 864,1977.1 865.8,1976 867.6,1974.9 869.2,1974 870.2,1973.3 871.7,1972.5 874.4,1970.9 876,1969.9 877,1969.4 879,1968.2 880.5,1967.3 882.5,1966.2 884.6,1965 885.4,1964.6 887.3,1963.5 888.9,1962.6 890.5,1961.8 892.7,1960.5 894.5,1959.6 896.2,1958.6 897.8,1957.8 899.5,1956.9 901,1956.1 902.8,1955.1 904.7,1954.2 906.6,1953.2 907.9,1952.5 909.5,1951.7 911.1,1950.9 913.2,1949.8 915,1948.9 916.1,1948.3 918.5,1947.1 920.4,1946.1 923,1944.9 926.1,1943.3 930.1,1941.4 935.1,1939 937.1,1938.1 941.8,1935.8 974.6,1921.1 978.8,1919.3 984.4,1917 998.3,1911.2 1001.3,1909.9 1004.9,1908.5 1009.5,1906.7 1012.4,1905.5 1016.3,1903.9 1018.7,1903 1042.1,1894 1046.2,1892.5 1049.4,1891.3 1053.2,1889.8 1057,1888.4 1060.8,1887.1 1063.7,1886 1098.7,1873.6 1101.4,1872.7 1104.5,1871.6 1108.3,1870.3 1112.8,1868.8 1116.2,1867.7 1142.4,1859 1146.1,1857.8 1150.2,1856.5 1152.5,1855.8 1157.4,1854.2 1180.7,1846.9 1185.2,1845.5 1197.4,1841.8 1209.3,1838.2 1212.3,1837.3 1216.1,1836.2 1218.4,1835.5 1222.1,1834.4 1226.8,1833 1228.9,1832.4 1268.3,1821.1 1271.6,1820.2 1276.1,1818.9 1279.7,1817.9 1296,1813.4 1300,1812.3 1304,1811.2 1308,1810.1 1310.7,1809.4 1314.5,1808.3 1331.3,1803.8 1335.2,1802.8 1338.7,1801.9 1342.3,1800.9 1346,1800 1364,1795.3 1366.9,1794.5 1377.9,1791.7 1380.7,1791 1385.1,1789.9 1387.9,1789.2 1405.7,1784.7 1408.9,1783.9 1413,1782.8 1416,1782.1 1420.4,1781 1424.5,1780 1452.5,1773.2 1456.1,1772.3 1461,1771.1 1464.4,1770.3 1467,1769.7 1497.2,1762.5 1501.5,1761.5 1504,1760.9 759.2,2261 760,2258.4 762.1,2252.3 763,2250.1 765.4,2244.9 766.1,2243.4 768.1,2239.8 769.2,2237.8 770.7,2235.1 772.4,2232.4 773.8,2230.3 775.8,2227.4 777.5,2225 778.9,2223.1 780.3,2221.3 781.7,2219.5 783.4,2217.4 784.6,2215.9 787.1,2213.1 792,2207.7 795.5,2204 801.5,2198.2 804.8,2195.1 807.9,2192.4 811.4,2189.4 813.6,2187.4 816.3,2185.2 818.2,2183.7 819.9,2182.3 821.7,2180.9 824.6,2178.7 826,2177.6 828,2176.1 829.1,2175.2 831.7,2173.3 833.1,2172.3 835.2,2170.8 837,2169.5 838.3,2168.6 840.9,2166.8 842.1,2165.9 843.8,2164.8 846.5,2162.9 848.3,2161.8 849.3,2161.1 851.5,2159.6 853.2,2158.6 855.6,2157 857.1,2156 858.5,2155.1 861,2153.6 862.7,2152.6 864.1,2151.7 866.6,2150.1 868.1,2149.3 869.8,2148.2 871.9,2147 873.9,2145.8 875.7,2144.8 877.4,2143.8 878.6,2143.1 880.8,2141.8 882.9,2140.6 884.1,2140 886.7,2138.5 888.2,2137.7 890.6,2136.4 892,2135.5 894.2,2134.4 895.2,2133.8 897.5,2132.6 899.5,2131.6 901,2130.8 903.2,2129.6 904.9,2128.7 906.8,2127.7 908,2127.1 910.1,2126 912.4,2124.8 914.3,2123.9 916.1,2123 917.7,2122.1 919.6,2121.2 921.3,2120.4 923.3,2119.3 924.5,2118.8 926.8,2117.6 928.2,2116.9 930.3,2116 931.7,2115.2 933.7,2114.3 935.5,2113.5 937.7,2112.4 939.7,2111.5 941.7,2110.5 943.7,2109.6 944.8,2109.1 947.2,2108 948.9,2107.2 950.4,2106.5 951.9,2105.8 953.8,2105 956.4,2103.8 957.8,2103.2 959.6,2102.3 961.1,2101.7 963.9,2100.4 965.4,2099.8 966.8,2099.2 969,2098.2 970.2,2097.7 972.3,2096.7 974.1,2096 976,2095.2 977.8,2094.4 980.1,2093.4 982.2,2092.5 987.2,2090.4 992.4,2088.2 1003,2083.9 1010.1,2081.1 1022,2076.3 1025.7,2074.9 1029.2,2073.5 1052.6,2064.7 1055.5,2063.6 1058.8,2062.4 1063.8,2060.6 1067.4,2059.3 1069.5,2058.5 1102.3,2047 1107.1,2045.4 1110.5,2044.2 1113.7,2043.2 1117.2,2042 1138.8,2034.8 1143.3,2033.4 1147.6,2032 1149.8,2031.3 1154.2,2029.9 1158.2,2028.6 1177.2,2022.6 1182.5,2021 1194,2017.5 1199.7,2015.7 1215.9,2010.9 1220.5,2009.5 1223.3,2008.7 1226.8,2007.6 1229.9,2006.7 1233.2,2005.8 1256.5,1999 1261.3,1997.7 1265.3,1996.6 1269.1,1995.5 1294.9,1988.3 1301.3,1986.6 1303.7,1985.9 1325.5,1980 1328.3,1979.3 1333.5,1977.9 1338,1976.7 1355.1,1972.2 1357.9,1971.5 1372.6,1967.7 1375.3,1967 1388.4,1963.6 1390.6,1963.1 1395.5,1961.9 1399.2,1960.9 1401,1960.5 1404.4,1959.6 1409.2,1958.4 1438.6,1951.2 1444.5,1949.7 1461,1945.7 1462.8,1945.3 1467.7,1944.1 1469.5,1943.7 1472.9,1942.9 1477.1,1941.9 1481.4,1940.9 755.8,2106.3 755.8,2101 756.6,2095.8 757.3,2090.6 755.8,2280.2 756.6,2273.9 755.8,2268.7 757.3,2263.4 1494.6,1762.9 1498.4,1762.2"/>
<polyline class="r" points="755.8,2109.8 759.6,2085.1 763.3,2074.8 767.1,2067 770.8,2060.4 774.6,2054.5 778.3,2049.3 782.1,2044.4 785.8,2039.9 789.6,2035.7 793.3,2031.7 797.1,2027.9 800.8,2024.2 804.6,2020.7 808.3,2017.4 812.1,2014.1 815.8,2011 819.6,2007.9 823.3,2005 827.1,2002.1 830.8,1999.3 834.6,1996.6 838.3,1993.9 842.1,1991.3 845.8,1988.8 849.6,1986.3 853.3,1983.8 857.1,1981.4 860.8,1979.1 864.6,1976.8 868.3,1974.5 872.1,1972.3 875.8,1970.1 879.6,1967.9 883.3,1965.8 887.1,1963.7 890.8,1961.6 894.6,1959.5 898.3,1957.5 902.1,1955.5 905.8,1953.6 909.6,1951.6 913.3,1949.7 917.1,1947.8 920.8,1945.9 924.6,1944.1 928.3,1942.3 932.1,1940.5 935.8,1938.7 939.6,1936.9 943.3,1935.1 947.1,1933.4 950.8,1931.7 954.6,1930 958.3,1928.3 962.1,1926.6 965.8,1925 969.6,1923.3 973.3,1921.7 977.1,1920.1 980.8,1918.5 984.6,1916.9 988.3,1915.3 992.1,1913.7 995.8,1912.2 999.6,1910.7 1003.3,1909.1 1007.1,1907.6 1010.8,1906.1 1014.6,1904.6 1018.3,1903.1 1022.1,1901.7 1025.8,1900.2 1029.6,1898.8 1033.3,1897.3 1037.1,1895.9 1040.8,1894.5 1044.6,1893.1 1048.3,1891.6 1052.1,1890.3 1055.8,1888.9 1059.6,1887.5 1063.3,1886.1 1067.1,1884.8 1070.8,1883.4 1074.6,1882.1 1078.3,1880.7 1082.1,1879.4 1085.8,1878.1 1089.6,1876.8 1093.3,1875.5 1097.1,1874.2 1100.8,1872.9 1104.6,1871.6 1108.3,1870.3 1112.1,1869.1 1115.8,1867.8 1119.6,1866.5 1123.3,1865.3 1127.1,1864 1130.8,1862.8 1134.6,1861.6 1138.4,1860.3 1142.1,1859.1 1145.9,1857.9 1149.6,1856.7 1153.4,1855.5 1157.1,1854.3 1160.9,1853.1 1164.6,1851.9 1168.4,1850.7 1172.1,1849.6 1175.9,1848.4 1179.6,1847.2 1183.4,1846.1 1187.1,1844.9 1190.9,1843.8 1194.6,1842.6 1198.4,1841.5 1202.1,1840.4 1205.9,1839.2 1209.6,1838.1 1213.4,1837 1217.1,1835.9 1220.9,1834.8 1224.6,1833.6 1228.4,1832.5 1232.1,1831.4 1235.9,1830.4 1239.6,1829.3 1243.4,1828.2 1247.1,1827.1 1250.9,1826 1254.6,1824.9 1258.4,1823.9 1262.1,1822.8 1265.9,1821.8 1269.6,1820.7 1273.4,1819.6 1277.1,1818.6 1280.9,1817.5 1284.6,1816.5 1288.4,1815.5 1292.1,1814.4 1295.9,1813.4 1299.6,1812.4 1303.4,1811.4 1307.1,1810.3 1310.9,1809.3 1314.6,1808.3 1318.4,1807.3 1322.1,1806.3 1325.9,1805.3 1329.6,1804.3 1333.4,1803.3 1337.1,1802.3 1340.9,1801.3 1344.6,1800.3 1348.4,1799.3 1352.1,1798.4 1355.9,1797.4 1359.6,1796.4 1363.4,1795.4 1367.1,1794.5 1370.9,1793.5 1374.6,1792.5 1378.4,1791.6 1382.1,1790.6 1385.9,1789.7 1389.6,1788.7 1393.4,1787.8 1397.1,1786.8 1400.9,1785.9 1404.6,1784.9 1408.4,1784 1412.1,1783.1 1415.9,1782.1 1419.6,1781.2 1423.4,1780.3 1427.1,1779.3 1430.9,1778.4 1434.6,1777.5 1438.4,1776.6 1442.1,1775.7 1445.9,1774.8 1449.6,1773.9 1453.4,1772.9 1457.1,1772 1460.9,1771.1 1464.6,1770.2 1468.4,1769.3 1472.1,1768.4 1475.9,1767.6 1479.6,1766.7 1483.4,1765.8 1487.1,1764.9 1490.9,1764 1494.6,1763.1 1498.4,1762.3 1502.1,1761.4 1505.9,1760.5 755.8,2284.4 759.6,2259.7 763.3,2249.5 767.1,2241.6 770.8,2235 774.6,2229.2 778.3,2223.9 782.1,2219.1 785.8,2214.5 789.6,2210.3 793.3,2206.3 797.1,2202.5 800.8,2198.8 804.6,2195.4 808.3,2192 812.1,2188.7 815.8,2185.6 819.6,2182.6 823.3,2179.6 827.1,2176.7 830.8,2174 834.6,2171.2 838.3,2168.6 842.1,2166 845.8,2163.4 849.6,2160.9 853.3,2158.5 857.1,2156.1 860.8,2153.7 864.6,2151.4 868.3,2149.1 872.1,2146.9 875.8,2144.7 879.6,2142.5 883.3,2140.4 887.1,2138.3 890.8,2136.2 894.6,2134.2 898.3,2132.2 902.1,2130.2 905.8,2128.2 909.6,2126.3 913.3,2124.3 917.1,2122.5 920.8,2120.6 924.6,2118.7 928.3,2116.9 932.1,2115.1 935.8,2113.3 939.6,2111.5 943.3,2109.8 947.1,2108 950.8,2106.3 954.6,2104.6 958.3,2102.9 962.1,2101.2 965.8,2099.6 969.6,2097.9 973.3,2096.3 977.1,2094.7 980.8,2093.1 984.6,2091.5 988.3,2089.9 992.1,2088.4 995.8,2086.8 999.6,2085.3 1003.3,2083.8 1007.1,2082.2 1010.8,2080.7 1014.6,2079.3 1018.3,2077.8 1022.1,2076.3 1025.8,2074.8 1029.6,2073.4 1033.3,2071.9 1037.1,2070.5 1040.8,2069.1 1044.6,2067.7 1048.3,2066.3 1052.1,2064.9 1055.8,2063.5 1059.6,2062.1 1063.3,2060.8 1067.1,2059.4 1070.8,2058 1074.6,2056.7 1078.3,2055.4 1082.1,2054 1085.8,2052.7 1089.6,2051.4 1093.3,2050.1 1097.1,2048.8 1100.8,2047.5 1104.6,2046.2 1108.3,2045 1112.1,2043.7 1115.8,2042.4 1119.6,2041.2 1123.3,2039.9 1127.1,2038.7 1130.8,2037.4 1134.6,2036.2 1138.4,2035 1142.1,2033.8 1145.9,2032.5 1149.6,2031.3 1153.4,2030.1 1157.1,2028.9 1160.9,2027.7 1164.6,2026.6 1168.4,2025.4 1172.1,2024.2 1175.9,2023 1179.6,2021.9 1183.4,2020.7 1187.1,2019.6 1190.9,2018.4 1194.6,2017.3 1198.4,2016.1 1202.1,2015 1205.9,2013.9 1209.6,2012.7 1213.4,2011.6 1217.1,2010.5 1220.9,2009.4 1224.6,2008.3 1228.4,2007.2 1232.1,2006.1 1235.9,2005 1239.6,2003.9 1243.4,2002.8 1247.1,2001.7 1250.9,2000.7 1254.6,1999.6 1258.4,1998.5 1262.1,1997.4 1265.9,1996.4 1269.6,1995.3 1273.4,1994.3 1277.1,1993.2 1280.9,1992.2 1284.6,1991.1 1288.4,1990.1 1292.1,1989.1 1295.9,1988 1299.6,1987 1303.4,1986 1307.1,1985 1310.9,1983.9 1314.6,1982.9 1318.4,1981.9 1322.1,1980.9 1325.9,1979.9 1329.6,1978.9 1333.4,1977.9 1337.1,1976.9 1340.9,1975.9 1344.6,1974.9 1348.4,1974 1352.1,1973 1355.9,1972 1359.6,1971 1363.4,1970.1 1367.1,1969.1 1370.9,1968.1 1374.6,1967.2 1378.4,1966.2 1382.1,1965.2 1385.9,1964.3 1389.6,1963.3 1393.4,1962.4 1397.1,1961.4 1400.9,1960.5 1404.6,1959.6 1408.4,1958.6 1412.1,1957.7 1415.9,1956.8 1419.6,1955.8 1423.4,1954.9 1427.1,1954 1430.9,1953.1 1434.6,1952.1 1438.4,1951.2 1442.1,1950.3 1445.9,1949.4 1449.6,1948.5 1453.4,1947.6 1457.1,1946.7 1460.9,1945.8 1464.6,1944.9 1468.4,1944 1472.1,1943.1 1475.9,1942.2 1479.6,1941.3 1483.4,1940.4 1487.1,1939.5 1490.9,1938.6 1494.6,1937.8 1498.4,1936.9 1502.1,1936 1505.9,1935.1"/>
<rect class="lg" x="1146.6" y="2126.8" width="335" height="138"/>
<polyline class="b" points="1167.2,2163.5"/>
<polyline class="r" points="1167.8,2227"/>
<text x="1187.3" y="2178.1">Obtained PS</text>
<text x="1187.8" y="2241.2">True PS</text>
<text text-anchor="middle" x="755.8" y="2362.5">0</text>
<text text-anchor="middle" x="905.8" y="2362.5">0.2</text>
<text text-anchor="middle" x="1055.8" y="2362.5">0.4</text>
<text text-anchor="middle" x="1205.9" y="2362.5">0.6</text>
<text text-anchor="middle" x="1355.9" y="2362.5">0.8</text>
<text text-anchor="middle" x="1505.9" y="2362.5">1.0</text>
<text text-anchor="end" x="714.3" y="2296.1">0</text>
<text text-anchor="end" x="714.3" y="2121.5">0.5</text>
<text text-anchor="end" x="714.3" y="1946.8">1.0</text>
<text text-anchor="end" x="714.3" y="1772.2">1.5</text>
<text filter="url(#gs)" x="1110.3" y="2430.7"><tspan class="i">x</tspan><tspan class="s" dx="0.5" dy="10.4">1</tspan></text>
<text filter="url(#gs)" transform="translate(612.3 2048.9) rotate(-90)"><tspan class="i">x</tspan><tspan class="s" dx="2" dy="11">2</tspan></text>
<text text-anchor="middle" x="1130.8" y="2508.1">(f) MO_Ring_PSO_SCD</text>
</g>
<g id="plot-g">
<rect class="ax" x="1799.8" y="1765.5" width="749.8" height="519.6"/>
<path class="tk" d="M1949.8 2285.1v-9M1949.8 1765.5v9M2099.7 2285.1v-9M2099.7 1765.5v9M2249.7 2285.1v-9M2249.7 1765.5v9M2399.6 2285.1v-9M2399.6 1765.5v9M1799.8 2111.9h9M2549.6 2111.9h-9M1799.8 1938.7h9M2549.6 1938.7h-9"/>
<polyline class="b" points="1802,2092.9 1804.3,2085.1 1806.5,2079 1808.8,2074 1824.3,2049.2 1826.2,2047 1828.6,2044.1 1831.5,2040.7 1834.6,2037.3 1837.6,2034.1 1840.3,2031.4 1843.9,2027.9 1860.9,2013 1862.5,2011.7 1865,2009.7 1866.3,2008.7 1868.3,2007.2 1870.4,2005.6 1872,2004.4 1873.9,2003 1875.5,2001.9 1877.6,2000.3 1879.3,1999.1 1882.1,1997.1 1884,1995.8 1885.6,1994.7 1888,1993.1 1889.3,1992.2 1890.7,1991.3 1893.2,1989.6 1895.5,1988.2 1897.4,1986.9 1898.5,1986.2 1901.2,1984.5 1902.6,1983.6 1904.2,1982.6 1906,1981.5 1908.7,1979.9 1910.3,1978.9 1912.1,1977.8 1913.8,1976.8 1915.6,1975.8 1918.6,1974 1920.4,1973 1922,1972.1 1923.8,1971.1 1925.7,1970 1927,1969.2 1929.1,1968.1 1931.6,1966.7 1932.8,1966 1935.7,1964.4 1937.3,1963.6 1939.2,1962.6 1941.1,1961.5 1943.3,1960.4 1944.4,1959.8 1946.1,1958.9 1948.7,1957.5 1951,1956.4 1952.1,1955.8 1954,1954.8 1956.1,1953.7 1957.6,1953 1959.8,1951.9 1962.4,1950.6 1963.8,1949.9 1966.4,1948.6 1969.6,1947.1 1975.1,1944.4 1977.4,1943.3 1990.4,1937.3 1994.2,1935.5 1995.8,1934.8 2001.1,1932.4 2005,1930.7 2016.1,1925.8 2020.9,1923.8 2026.7,1921.3 2031.5,1919.3 2035.9,1917.5 2039.5,1916 2054.2,1910.1 2058.8,1908.3 2063.9,1906.3 2076.6,1901.4 2078.7,1900.7 2082.4,1899.2 2086.6,1897.6 2100.8,1892.4 2103.5,1891.4 2107.1,1890.1 2110.4,1889 2114.4,1887.5 2133.8,1880.7 2137.6,1879.4 2142.2,1877.8 2146.4,1876.4 2162.1,1871.1 2165.2,1870.1 2168.7,1868.9 2172.5,1867.7 2191.3,1861.6 2194.1,1860.7 2199.1,1859.1 2207.4,1856.5 2210,1855.7 2215,1854.1 2218,1853.2 2228.7,1849.9 2231.8,1849 2236.6,1847.5 2238.9,1846.8 2242.4,1845.8 2247.3,1844.3 2250.4,1843.4 2271.5,1837.2 2274.3,1836.3 2278.5,1835.1 2281.4,1834.3 2285.7,1833.1 2302.7,1828.2 2306,1827.3 2309.8,1826.2 2314.1,1825 2316.5,1824.3 2321.3,1823 2345.2,1816.5 2347.2,1815.9 2351.8,1814.7 2353.7,1814.2 2357.2,1813.2 2360.9,1812.3 2364.6,1811.3 2384.1,1806.1 2387.4,1805.3 2395.1,1803.3 2401,1801.7 2404.6,1800.8 2419.3,1797 2424.6,1795.7 2427.3,1795 2439.4,1792 2441.9,1791.3 2448.3,1789.8 2453.6,1788.4 2461.1,1786.6 2464.2,1785.8 2468.5,1784.8 2472.5,1783.8 2476,1782.9 2479.7,1782 2482.4,1781.4 2524,1771.5 2527.4,1770.7 2529.6,1770.1 2532,1769.6 2534.6,1769 2537.2,1768.4 1803.3,2261.6 1804.6,2257.3 1805.9,2253.7 1807.9,2249 1808.9,2246.9 1810.8,2243.2 1812.5,2240 1814,2237.5 1815.1,2235.6 1817.3,2232.3 1818,2231.1 1820.2,2227.9 1821.3,2226.4 1823.3,2223.8 1825.1,2221.5 1825.9,2220.5 1827.6,2218.3 1829.9,2215.7 1830.7,2214.8 1832.5,2212.8 1834.6,2210.5 1835.7,2209.3 1836.8,2208.1 1838.4,2206.5 1840.7,2204.2 1841.6,2203.3 1843.5,2201.5 1845.2,2199.8 1846.3,2198.8 1848.5,2196.8 1850.1,2195.4 1851,2194.6 1852.6,2193.2 1854.8,2191.3 1856.1,2190.2 1858,2188.6 1858.8,2188 1860.5,2186.5 1862,2185.3 1864.1,2183.7 1865.8,2182.3 1867.4,2181.1 1868.7,2180.1 1870.6,2178.7 1872,2177.6 1873,2176.9 1875.3,2175.2 1876.3,2174.5 1878,2173.2 1879.5,2172.1 1881.2,2171 1882.6,2170 1884.6,2168.6 1886,2167.6 1887.8,2166.4 1888.9,2165.7 1890.8,2164.4 1891.8,2163.8 1893.6,2162.6 1895.5,2161.3 1897,2160.4 1898.2,2159.6 1900,2158.5 1901.8,2157.3 1903.4,2156.4 1904.5,2155.7 1906.3,2154.5 1907.8,2153.7 1909.1,2152.8 1910.6,2151.9 1912.2,2151 1914.1,2149.8 1915.9,2148.8 1917,2148.1 1918.7,2147.2 1920.6,2146 1921.6,2145.5 1923.3,2144.5 1924.5,2143.8 1926.3,2142.8 1942.7,2133.9 1945.9,2132.2 1948,2131.1 1950.1,2130 1951.8,2129.1 1953.2,2128.4 1955.6,2127.2 1957.4,2126.3 1959.8,2125.1 1961.5,2124.3 1963.7,2123.1 1965.7,2122.1 1968.3,2120.9 1970.9,2119.6 1972.5,2118.9 1974.2,2118 1976.6,2116.9 1979,2115.7 1982.2,2114.3 1984.2,2113.3 1987.5,2111.8 1991.2,2110.1 1995.6,2108.1 2017.5,2098.4 2020.9,2097 2024,2095.7 2027.8,2094.1 2032.7,2092 2056,2082.6 2060,2081 2063.5,2079.7 2067.7,2078 2088.1,2070.3 2092.7,2068.6 2095.7,2067.5 2100.4,2065.8 2113.6,2061 2117.5,2059.6 2120.9,2058.4 2123.9,2057.4 2139.7,2051.9 2143.1,2050.7 2145.9,2049.8 2150.4,2048.2 2153.4,2047.2 2178.4,2038.9 2180.8,2038.2 2185.4,2036.7 2188.7,2035.6 2192.8,2034.3 2196.7,2033.1 2210.2,2028.8 2213.9,2027.7 2219.3,2026 2221.9,2025.2 2226,2023.9 2254.7,2015.3 2258.1,2014.3 2262.3,2013 2266.1,2011.9 2277.1,2008.7 2280.9,2007.6 2283.8,2006.8 2287.9,2005.6 2290.8,2004.8 2304.8,2000.8 2309.2,1999.6 2320.5,1996.4 2322.9,1995.8 2327.9,1994.4 2329.8,1993.9 2350.5,1988.2 2352.3,1987.8 2356.7,1986.6 2361.3,1985.3 2372,1982.5 2375.6,1981.5 2379.8,1980.4 2382.5,1979.7 2387.6,1978.4 2411.7,1972.2 2415.2,1971.3 2418.4,1970.5 2421.9,1969.6 2436.2,1966 2439.7,1965.1 2441.8,1964.6 2446.1,1963.5 2449.1,1962.7 2461.5,1959.7 2465.7,1958.6 2468.8,1957.9 2472.4,1957 2474.6,1956.5 2479.2,1955.4 2494.5,1951.7 2498,1950.8 2508.4,1948.4 2511.5,1947.6 2516.1,1946.5 2520.5,1945.5 2534.9,1942.1 2538.7,1941.2 2549.1,1938.8 1799.8,2111.9 1799.8,2278.2 1800.5,2271.2"/>
<polyline class="r" points="1799.8,2111.9 1803.5,2087.4 1807.3,2077.3 1811,2069.5 1814.8,2062.9 1818.5,2057.1 1822.3,2051.9 1826,2047.1 1829.8,2042.6 1833.5,2038.4 1837.3,2034.4 1841,2030.7 1844.8,2027 1848.5,2023.6 1852.3,2020.3 1856,2017 1859.8,2013.9 1863.5,2010.9 1867.3,2008 1871,2005.1 1874.8,2002.4 1878.5,1999.7 1882.3,1997 1886,1994.4 1889.8,1991.9 1893.5,1989.4 1897.3,1987 1901,1984.6 1904.8,1982.3 1908.5,1980 1912.3,1977.7 1916,1975.5 1919.8,1973.3 1923.5,1971.2 1927.3,1969.1 1931,1967 1934.8,1964.9 1938.5,1962.9 1942.3,1960.9 1946,1958.9 1949.8,1957 1953.5,1955.1 1957.3,1953.2 1961,1951.3 1964.8,1949.4 1968.5,1947.6 1972.3,1945.8 1976,1944 1979.8,1942.2 1983.5,1940.4 1987.2,1938.7 1991,1937 1994.7,1935.3 1998.5,1933.6 2002.2,1931.9 2006,1930.2 2009.7,1928.6 2013.5,1927 2017.2,1925.4 2021,1923.8 2024.7,1922.2 2028.5,1920.6 2032.2,1919 2036,1917.5 2039.7,1915.9 2043.5,1914.4 2047.2,1912.9 2051,1911.4 2054.7,1909.9 2058.5,1908.4 2062.2,1907 2066,1905.5 2069.7,1904.1 2073.5,1902.6 2077.2,1901.2 2081,1899.8 2084.7,1898.4 2088.5,1897 2092.2,1895.6 2096,1894.2 2099.7,1892.8 2103.5,1891.5 2107.2,1890.1 2111,1888.7 2114.7,1887.4 2118.5,1886.1 2122.2,1884.8 2126,1883.4 2129.7,1882.1 2133.5,1880.8 2137.2,1879.5 2141,1878.2 2144.7,1877 2148.5,1875.7 2152.2,1874.4 2156,1873.2 2159.7,1871.9 2163.5,1870.7 2167.2,1869.4 2171,1868.2 2174.7,1867 2178.4,1865.7 2182.2,1864.5 2185.9,1863.3 2189.7,1862.1 2193.4,1860.9 2197.2,1859.7 2200.9,1858.5 2204.7,1857.3 2208.4,1856.2 2212.2,1855 2215.9,1853.8 2219.7,1852.7 2223.4,1851.5 2227.2,1850.4 2230.9,1849.2 2234.7,1848.1 2238.4,1847 2242.2,1845.8 2245.9,1844.7 2249.7,1843.6 2253.4,1842.5 2257.2,1841.4 2260.9,1840.2 2264.7,1839.1 2268.4,1838 2272.2,1837 2275.9,1835.9 2279.7,1834.8 2283.4,1833.7 2287.2,1832.6 2290.9,1831.6 2294.7,1830.5 2298.4,1829.4 2302.2,1828.4 2305.9,1827.3 2309.7,1826.3 2313.4,1825.2 2317.2,1824.2 2320.9,1823.1 2324.7,1822.1 2328.4,1821 2332.2,1820 2335.9,1819 2339.7,1818 2343.4,1817 2347.2,1815.9 2350.9,1814.9 2354.7,1813.9 2358.4,1812.9 2362.1,1811.9 2365.9,1810.9 2369.6,1809.9 2373.4,1808.9 2377.1,1807.9 2380.9,1806.9 2384.6,1806 2388.4,1805 2392.1,1804 2395.9,1803 2399.6,1802.1 2403.4,1801.1 2407.1,1800.1 2410.9,1799.2 2414.6,1798.2 2418.4,1797.3 2422.1,1796.3 2425.9,1795.4 2429.6,1794.4 2433.4,1793.5 2437.1,1792.5 2440.9,1791.6 2444.6,1790.7 2448.4,1789.7 2452.1,1788.8 2455.9,1787.9 2459.6,1786.9 2463.4,1786 2467.1,1785.1 2470.9,1784.2 2474.6,1783.3 2478.4,1782.4 2482.1,1781.5 2485.9,1780.5 2489.6,1779.6 2493.4,1778.7 2497.1,1777.8 2500.9,1776.9 2504.6,1776.1 2508.4,1775.2 2512.1,1774.3 2515.9,1773.4 2519.6,1772.5 2523.4,1771.6 2527.1,1770.7 2530.9,1769.9 2534.6,1769 2538.4,1768.1 2542.1,1767.2 2545.9,1766.4 2549.6,1765.5 1799.8,2285.1 1803.5,2260.6 1807.3,2250.5 1811,2242.7 1814.8,2236.1 1818.5,2230.3 1822.3,2225.1 1826,2220.3 1829.8,2215.8 1833.5,2211.6 1837.3,2207.6 1841,2203.9 1844.8,2200.2 1848.5,2196.8 1852.3,2193.5 1856,2190.2 1859.8,2187.1 1863.5,2184.1 1867.3,2181.2 1871,2178.3 1874.8,2175.6 1878.5,2172.9 1882.3,2170.2 1886,2167.6 1889.8,2165.1 1893.5,2162.6 1897.3,2160.2 1901,2157.8 1904.8,2155.5 1908.5,2153.2 1912.3,2150.9 1916,2148.7 1919.8,2146.5 1923.5,2144.4 1927.3,2142.3 1931,2140.2 1934.8,2138.1 1938.5,2136.1 1942.3,2134.1 1946,2132.1 1949.8,2130.2 1953.5,2128.3 1957.3,2126.4 1961,2124.5 1964.8,2122.6 1968.5,2120.8 1972.3,2119 1976,2117.2 1979.8,2115.4 1983.5,2113.6 1987.2,2111.9 1991,2110.2 1994.7,2108.5 1998.5,2106.8 2002.2,2105.1 2006,2103.4 2009.7,2101.8 2013.5,2100.2 2017.2,2098.6 2021,2097 2024.7,2095.4 2028.5,2093.8 2032.2,2092.2 2036,2090.7 2039.7,2089.1 2043.5,2087.6 2047.2,2086.1 2051,2084.6 2054.7,2083.1 2058.5,2081.6 2062.2,2080.2 2066,2078.7 2069.7,2077.3 2073.5,2075.8 2077.2,2074.4 2081,2073 2084.7,2071.6 2088.5,2070.2 2092.2,2068.8 2096,2067.4 2099.7,2066 2103.5,2064.7 2107.2,2063.3 2111,2061.9 2114.7,2060.6 2118.5,2059.3 2122.2,2058 2126,2056.6 2129.7,2055.3 2133.5,2054 2137.2,2052.7 2141,2051.4 2144.7,2050.2 2148.5,2048.9 2152.2,2047.6 2156,2046.4 2159.7,2045.1 2163.5,2043.9 2167.2,2042.6 2171,2041.4 2174.7,2040.2 2178.4,2038.9 2182.2,2037.7 2185.9,2036.5 2189.7,2035.3 2193.4,2034.1 2197.2,2032.9 2200.9,2031.7 2204.7,2030.5 2208.4,2029.4 2212.2,2028.2 2215.9,2027 2219.7,2025.9 2223.4,2024.7 2227.2,2023.6 2230.9,2022.4 2234.7,2021.3 2238.4,2020.2 2242.2,2019 2245.9,2017.9 2249.7,2016.8 2253.4,2015.7 2257.2,2014.6 2260.9,2013.4 2264.7,2012.3 2268.4,2011.2 2272.2,2010.2 2275.9,2009.1 2279.7,2008 2283.4,2006.9 2287.2,2005.8 2290.9,2004.8 2294.7,2003.7 2298.4,2002.6 2302.2,2001.6 2305.9,2000.5 2309.7,1999.5 2313.4,1998.4 2317.2,1997.4 2320.9,1996.3 2324.7,1995.3 2328.4,1994.2 2332.2,1993.2 2335.9,1992.2 2339.7,1991.2 2343.4,1990.2 2347.2,1989.1 2350.9,1988.1 2354.7,1987.1 2358.4,1986.1 2362.1,1985.1 2365.9,1984.1 2369.6,1983.1 2373.4,1982.1 2377.1,1981.1 2380.9,1980.1 2384.6,1979.2 2388.4,1978.2 2392.1,1977.2 2395.9,1976.2 2399.6,1975.3 2403.4,1974.3 2407.1,1973.3 2410.9,1972.4 2414.6,1971.4 2418.4,1970.5 2422.1,1969.5 2425.9,1968.6 2429.6,1967.6 2433.4,1966.7 2437.1,1965.7 2440.9,1964.8 2444.6,1963.9 2448.4,1962.9 2452.1,1962 2455.9,1961.1 2459.6,1960.1 2463.4,1959.2 2467.1,1958.3 2470.9,1957.4 2474.6,1956.5 2478.4,1955.6 2482.1,1954.7 2485.9,1953.7 2489.6,1952.8 2493.4,1951.9 2497.1,1951 2500.9,1950.1 2504.6,1949.3 2508.4,1948.4 2512.1,1947.5 2515.9,1946.6 2519.6,1945.7 2523.4,1944.8 2527.1,1943.9 2530.9,1943.1 2534.6,1942.2 2538.4,1941.3 2542.1,1940.4 2545.9,1939.6 2549.6,1938.7"/>
<rect class="lg" x="2190.3" y="2126.8" width="335" height="138"/>
<polyline class="b" points="2210.9,2163.5"/>
<polyline class="r" points="2211.5,2227"/>
<text x="2231" y="2178.1">Obtained PS</text>
<text x="2231.5" y="2241.2">True PS</text>
<text text-anchor="middle" x="1799.8" y="2362.5">0</text>
<text text-anchor="middle" x="1949.8" y="2362.5">0.2</text>
<text text-anchor="middle" x="2099.7" y="2362.5">0.4</text>
<text text-anchor="middle" x="2249.7" y="2362.5">0.6</text>
<text text-anchor="middle" x="2399.6" y="2362.5">0.8</text>
<text text-anchor="middle" x="2549.6" y="2362.5">1.0</text>
<text text-anchor="end" x="1758.3" y="2296.8">0</text>
<text text-anchor="end" x="1758.3" y="2123.6">0.5</text>
<text text-anchor="end" x="1758.3" y="1950.4">1.0</text>
<text text-anchor="end" x="1758.3" y="1777.2">1.5</text>
<text filter="url(#gs)" x="2154.2" y="2430.7"><tspan class="i">x</tspan><tspan class="s" dx="0.5" dy="10.4">1</tspan></text>
<text filter="url(#gs)" transform="translate(1656.3 2048.9) rotate(-90)"><tspan class="i">x</tspan><tspan class="s" dx="2" dy="11">2</tspan></text>
<text text-anchor="middle" x="2174.7" y="2508.1">(g) SSMOPSO</text>
</g>
</svg></body></html>
